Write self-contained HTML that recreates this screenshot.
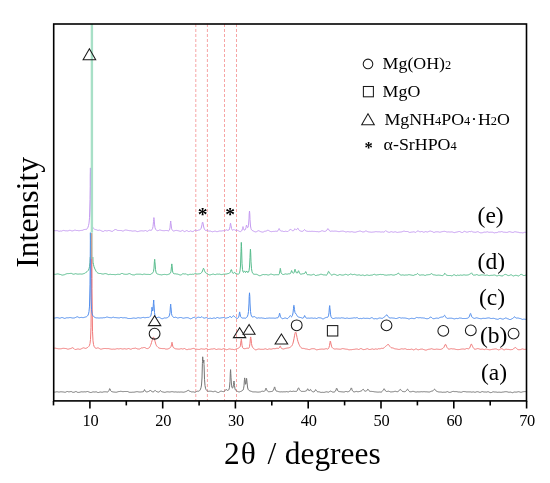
<!DOCTYPE html>
<html><head><meta charset="utf-8"><title>XRD patterns</title>
<style>
html,body{margin:0;padding:0;background:#fff;}
body{width:550px;height:483px;overflow:hidden;}
svg{display:block;}
text{font-family:"Liberation Serif","Times New Roman",serif;fill:#000;}
</style></head><body>
<svg width="550" height="483" viewBox="0 0 550 483">
<rect width="550" height="483" fill="#fff"/>
<defs><clipPath id="plot"><rect x="53.7" y="24.0" width="472.8" height="376.9"/></clipPath><clipPath id="low"><rect x="50" y="257" width="480" height="150"/><rect x="100" y="20" width="430" height="240"/><rect x="50" y="20" width="35" height="240"/></clipPath></defs>

<g stroke="#f7a4a4" stroke-width="1" stroke-dasharray="3,2" fill="none">
<line x1="195.8" y1="24.0" x2="195.8" y2="400.9"/>
<line x1="207.4" y1="24.0" x2="207.4" y2="400.9"/>
<line x1="224.5" y1="24.0" x2="224.5" y2="400.9"/>
<line x1="236.5" y1="24.0" x2="236.5" y2="400.9"/>
</g>
<g clip-path="url(#plot)" fill="none" stroke-width="1" stroke-linejoin="round">
<path d="M54.0,392.2 L54.5,392.1 L55.0,392.1 L55.5,392.0 L56.0,391.8 L56.5,391.8 L57.0,391.8 L57.5,391.8 L58.0,392.0 L58.5,392.0 L59.0,392.0 L59.5,392.0 L60.0,391.9 L60.5,391.8 L61.0,391.8 L61.5,391.8 L62.0,391.8 L62.5,391.9 L63.0,392.0 L63.5,392.0 L64.0,392.2 L64.5,392.2 L65.0,392.2 L65.5,392.2 L66.0,391.9 L66.5,391.7 L67.0,391.6 L67.5,391.5 L68.0,391.7 L68.5,391.8 L69.0,391.8 L69.5,391.8 L70.0,391.6 L70.5,391.6 L71.0,391.5 L71.5,391.6 L72.0,391.9 L72.5,392.2 L73.0,392.4 L73.5,392.3 L74.0,392.3 L74.5,392.1 L75.0,391.8 L75.5,391.6 L76.0,391.5 L76.5,391.7 L77.0,391.9 L77.5,392.3 L78.0,392.4 L78.5,392.4 L79.0,392.4 L79.5,392.3 L80.0,392.2 L80.5,392.0 L81.0,391.9 L81.5,391.8 L82.0,391.8 L82.5,391.9 L83.0,391.9 L83.5,391.9 L84.0,391.9 L84.5,391.8 L85.0,391.9 L85.5,391.9 L86.0,391.8 L86.5,391.7 L87.0,391.5 L87.5,391.5 L88.0,391.6 L88.5,391.8 L89.0,392.1 L89.5,392.2 L90.0,392.3 L90.5,392.5 L91.0,392.4 L91.5,392.4 L92.0,392.2 L92.5,392.0 L93.0,391.9 L93.5,391.9 L94.0,392.0 L94.5,392.0 L95.0,392.0 L95.5,391.9 L96.0,391.9 L96.5,391.9 L97.0,392.1 L97.5,392.4 L98.0,392.5 L98.5,392.5 L99.0,392.4 L99.5,392.2 L100.0,392.1 L100.5,392.0 L101.0,392.1 L101.5,392.2 L102.0,392.3 L102.5,392.2 L103.0,392.1 L103.5,391.9 L104.0,391.8 L104.5,391.8 L105.0,391.8 L105.5,391.8 L106.0,391.9 L106.5,391.9 L107.0,392.1 L107.5,392.0 L108.0,391.8 L108.5,391.3 L109.0,390.4 L109.5,389.1 L109.5,388.9 L109.7,388.6 L110.0,388.9 L110.0,388.9 L110.5,390.4 L111.0,391.1 L111.5,391.5 L112.0,391.8 L112.5,391.8 L113.0,391.8 L113.5,392.0 L114.0,392.0 L114.5,392.1 L115.0,392.2 L115.5,392.2 L116.0,392.2 L116.5,392.2 L117.0,392.0 L117.5,391.9 L118.0,391.8 L118.5,391.6 L119.0,391.6 L119.5,391.5 L120.0,391.3 L120.5,391.3 L121.0,391.3 L121.5,391.4 L122.0,391.6 L122.5,391.6 L123.0,391.7 L123.5,391.6 L124.0,391.5 L124.5,391.5 L125.0,391.5 L125.5,391.5 L126.0,391.5 L126.5,391.5 L127.0,391.4 L127.5,391.5 L128.0,391.6 L128.5,391.9 L129.0,392.1 L129.5,392.3 L130.0,392.4 L130.5,392.3 L131.0,392.3 L131.5,392.3 L132.0,392.3 L132.5,392.2 L133.0,392.2 L133.5,392.2 L134.0,392.1 L134.5,392.1 L135.0,392.1 L135.5,391.9 L136.0,391.8 L136.5,391.7 L137.0,391.6 L137.5,391.7 L138.0,391.8 L138.5,391.9 L139.0,392.0 L139.5,392.0 L140.0,392.0 L140.5,392.0 L141.0,391.9 L141.5,391.9 L142.0,391.9 L142.5,391.8 L143.0,391.8 L143.5,391.6 L144.0,390.8 L144.2,390.1 L144.5,389.6 L144.8,390.0 L145.0,390.6 L145.5,391.4 L146.0,391.8 L146.5,391.9 L147.0,391.8 L147.5,391.8 L148.0,391.6 L148.5,391.5 L149.0,391.5 L149.5,391.1 L149.9,390.5 L150.0,390.5 L150.2,390.1 L150.4,390.3 L150.5,390.3 L151.0,390.9 L151.5,391.3 L152.0,391.6 L152.5,391.8 L153.0,391.9 L153.5,391.8 L154.0,391.6 L154.5,391.1 L154.9,390.4 L155.0,390.4 L155.2,390.4 L155.4,390.6 L155.5,390.7 L156.0,391.3 L156.5,391.5 L157.0,391.7 L157.5,391.9 L158.0,392.0 L158.5,392.1 L159.0,392.0 L159.5,391.7 L160.0,391.1 L160.2,390.7 L160.5,390.5 L160.8,390.8 L161.0,391.1 L161.5,391.6 L162.0,391.8 L162.5,391.9 L163.0,392.0 L163.5,392.1 L164.0,392.2 L164.5,392.3 L165.0,392.3 L165.5,392.2 L166.0,392.1 L166.5,391.9 L167.0,391.8 L167.5,391.8 L168.0,391.8 L168.5,391.9 L169.0,392.0 L169.5,392.0 L170.0,392.0 L170.5,391.9 L171.0,391.8 L171.5,391.7 L172.0,391.6 L172.5,391.7 L173.0,391.8 L173.5,391.9 L174.0,392.0 L174.5,392.0 L175.0,392.0 L175.5,391.9 L176.0,391.9 L176.5,392.0 L177.0,392.1 L177.5,392.1 L178.0,392.1 L178.5,392.0 L179.0,392.1 L179.5,392.1 L180.0,392.0 L180.5,392.0 L181.0,392.0 L181.5,392.0 L182.0,392.1 L182.5,392.1 L183.0,392.2 L183.5,392.2 L184.0,392.1 L184.5,392.0 L185.0,391.8 L185.5,391.7 L186.0,391.5 L186.5,391.3 L187.0,391.1 L187.5,390.8 L188.0,390.2 L188.2,390.0 L188.5,390.0 L188.8,390.4 L189.0,390.8 L189.5,391.3 L190.0,391.4 L190.5,391.5 L191.0,391.8 L191.5,391.9 L192.0,391.9 L192.5,391.9 L193.0,391.9 L193.5,391.9 L194.0,392.1 L194.5,392.2 L195.0,392.2 L195.5,392.1 L196.0,391.8 L196.5,391.5 L197.0,391.4 L197.5,391.2 L198.0,391.3 L198.5,391.2 L199.0,391.1 L199.5,390.7 L200.0,390.2 L200.5,389.1 L201.0,387.7 L201.5,385.0 L202.0,378.0 L202.4,363.3 L202.5,361.6 L202.7,356.8 L202.9,359.6 L203.0,360.7 L203.5,362.4 L203.6,361.7 L203.8,360.0 L204.0,364.4 L204.1,366.0 L204.5,379.3 L205.0,385.5 L205.5,388.2 L206.0,389.5 L206.5,390.2 L207.0,390.8 L207.5,391.1 L208.0,391.2 L208.5,391.3 L209.0,391.2 L209.5,391.2 L210.0,391.2 L210.5,391.2 L211.0,391.2 L211.5,391.3 L212.0,391.4 L212.5,391.6 L213.0,391.7 L213.5,391.7 L214.0,391.5 L214.5,391.3 L215.0,391.3 L215.5,391.3 L216.0,391.6 L216.5,391.9 L217.0,392.1 L217.5,392.4 L218.0,392.5 L218.5,392.5 L219.0,392.2 L219.5,391.9 L220.0,391.5 L220.5,391.3 L221.0,391.3 L221.5,391.2 L222.0,391.4 L222.5,391.5 L223.0,391.5 L223.5,391.6 L224.0,391.5 L224.5,391.2 L225.0,390.8 L225.5,390.0 L225.8,389.6 L226.0,389.3 L226.2,389.4 L226.5,389.7 L227.0,390.1 L227.5,390.4 L228.0,390.3 L228.5,390.1 L229.0,389.3 L229.5,387.2 L230.0,381.4 L230.3,373.2 L230.5,370.2 L230.6,369.6 L230.8,373.5 L231.0,377.3 L231.5,385.2 L232.0,387.7 L232.5,388.1 L233.0,387.2 L233.5,384.4 L233.8,382.2 L234.0,381.0 L234.2,382.8 L234.5,385.6 L235.0,388.9 L235.5,390.1 L236.0,390.6 L236.5,390.9 L237.0,391.1 L237.5,391.4 L238.0,391.6 L238.5,391.8 L239.0,392.0 L239.5,391.9 L240.0,391.7 L240.5,391.5 L241.0,391.2 L241.5,391.1 L242.0,390.9 L242.5,390.5 L243.0,390.1 L243.5,388.8 L244.0,385.9 L244.4,380.1 L244.5,379.4 L244.7,377.9 L244.9,379.3 L245.0,379.8 L245.5,384.3 L246.0,383.5 L246.3,380.0 L246.5,378.6 L246.6,378.3 L246.8,380.1 L247.0,382.1 L247.5,387.0 L248.0,389.1 L248.5,390.0 L249.0,390.5 L249.5,390.7 L250.0,390.9 L250.5,391.1 L251.0,391.2 L251.5,391.4 L252.0,391.6 L252.5,391.8 L253.0,391.8 L253.5,391.9 L254.0,391.9 L254.5,391.9 L255.0,391.9 L255.5,391.9 L256.0,391.9 L256.5,392.0 L257.0,392.0 L257.5,392.1 L258.0,392.2 L258.5,392.1 L259.0,392.1 L259.5,392.0 L260.0,391.9 L260.5,391.9 L261.0,391.6 L261.5,391.4 L262.0,391.3 L262.5,391.2 L263.0,391.3 L263.5,391.4 L264.0,391.4 L264.5,391.2 L265.0,390.7 L265.5,389.3 L265.8,388.6 L266.0,388.1 L266.2,388.5 L266.5,389.3 L267.0,390.4 L267.5,391.1 L268.0,391.4 L268.5,391.7 L269.0,391.7 L269.5,391.7 L270.0,391.7 L270.5,391.6 L271.0,391.6 L271.5,391.5 L272.0,391.3 L272.5,391.2 L273.0,390.8 L273.5,390.2 L274.0,388.7 L274.4,387.3 L274.5,387.0 L274.6,386.9 L274.9,387.5 L275.0,388.2 L275.5,389.9 L276.0,390.8 L276.5,391.1 L277.0,391.2 L277.5,391.3 L278.0,391.4 L278.5,391.6 L279.0,391.7 L279.5,391.8 L280.0,391.9 L280.5,391.9 L281.0,391.8 L281.5,391.8 L282.0,391.9 L282.5,391.9 L283.0,391.9 L283.5,391.8 L284.0,391.8 L284.5,391.8 L285.0,391.7 L285.5,391.8 L286.0,391.7 L286.5,391.6 L287.0,391.8 L287.5,391.8 L288.0,391.9 L288.5,391.9 L289.0,391.7 L289.5,391.4 L290.0,391.3 L290.5,391.2 L291.0,391.3 L291.5,391.5 L292.0,391.5 L292.5,391.4 L293.0,391.3 L293.5,391.2 L294.0,391.3 L294.5,391.4 L295.0,391.5 L295.5,391.4 L296.0,391.4 L296.5,391.3 L297.0,390.9 L297.5,390.2 L298.0,388.8 L298.2,388.2 L298.5,387.8 L298.8,388.0 L299.0,388.5 L299.5,389.5 L300.0,390.3 L300.5,390.8 L301.0,391.1 L301.5,391.4 L302.0,391.5 L302.5,391.4 L303.0,391.5 L303.5,391.4 L304.0,391.4 L304.5,391.4 L305.0,391.2 L305.5,391.1 L306.0,391.1 L306.5,390.8 L307.0,390.1 L307.4,389.2 L307.5,388.9 L307.6,388.8 L307.9,388.9 L308.0,389.2 L308.5,390.3 L309.0,390.6 L309.5,390.6 L310.0,390.0 L310.2,389.6 L310.5,389.4 L310.8,389.8 L311.0,390.3 L311.5,391.0 L312.0,391.4 L312.5,391.6 L313.0,391.9 L313.5,391.9 L314.0,391.8 L314.5,391.5 L315.0,390.7 L315.4,389.9 L315.5,389.7 L315.6,389.6 L315.9,389.8 L316.0,390.0 L316.5,390.9 L317.0,391.4 L317.5,391.7 L318.0,391.8 L318.5,391.8 L319.0,391.8 L319.5,391.9 L320.0,392.0 L320.5,392.3 L321.0,392.3 L321.5,392.4 L322.0,392.3 L322.5,392.3 L323.0,392.3 L323.5,392.4 L324.0,392.3 L324.5,392.3 L325.0,392.2 L325.5,392.0 L326.0,391.9 L326.5,391.8 L327.0,391.9 L327.5,392.0 L328.0,392.1 L328.5,392.2 L329.0,391.9 L329.5,391.6 L330.0,391.4 L330.5,391.1 L331.0,391.2 L331.5,391.5 L332.0,391.7 L332.5,392.0 L333.0,392.2 L333.5,392.1 L334.0,392.1 L334.5,391.9 L335.0,391.6 L335.5,391.0 L336.0,389.9 L336.4,388.5 L336.5,388.3 L336.7,388.1 L336.9,388.5 L337.0,388.7 L337.5,390.2 L338.0,391.0 L338.5,391.4 L339.0,391.6 L339.5,391.6 L340.0,391.7 L340.5,391.7 L341.0,391.7 L341.5,391.8 L342.0,391.8 L342.5,391.9 L343.0,391.9 L343.5,392.0 L344.0,392.0 L344.5,391.9 L345.0,391.8 L345.5,391.5 L346.0,391.5 L346.5,391.5 L347.0,391.6 L347.5,391.8 L348.0,391.7 L348.5,391.6 L349.0,391.3 L349.5,391.0 L350.0,390.6 L350.5,389.8 L351.0,388.3 L351.1,388.2 L351.3,387.9 L351.5,388.1 L351.6,388.2 L352.0,389.7 L352.5,390.8 L353.0,391.4 L353.5,391.7 L354.0,391.9 L354.5,391.9 L355.0,391.8 L355.5,391.6 L356.0,391.4 L356.5,391.4 L357.0,391.6 L357.5,391.7 L358.0,391.8 L358.5,391.7 L359.0,391.6 L359.5,391.5 L360.0,391.3 L360.5,391.2 L361.0,391.0 L361.5,390.8 L362.0,390.5 L362.5,389.8 L362.8,389.4 L363.0,389.1 L363.2,389.1 L363.5,389.6 L364.0,390.4 L364.5,390.8 L365.0,391.1 L365.5,391.2 L366.0,391.2 L366.5,390.9 L367.0,390.4 L367.5,389.5 L367.8,389.1 L368.0,389.0 L368.2,389.4 L368.5,389.9 L369.0,390.7 L369.5,391.1 L370.0,391.3 L370.5,391.4 L371.0,391.4 L371.5,391.4 L372.0,391.4 L372.5,391.5 L373.0,391.5 L373.5,391.6 L374.0,391.7 L374.5,391.8 L375.0,391.9 L375.5,391.9 L376.0,391.9 L376.5,392.0 L377.0,392.0 L377.5,392.1 L378.0,392.2 L378.5,392.1 L379.0,392.0 L379.5,392.0 L380.0,392.0 L380.5,392.1 L381.0,392.2 L381.5,392.0 L382.0,391.6 L382.5,391.1 L383.0,390.3 L383.5,389.5 L383.8,389.0 L384.0,388.7 L384.2,388.9 L384.5,389.2 L385.0,390.1 L385.5,390.9 L386.0,391.2 L386.5,391.5 L387.0,391.5 L387.5,391.4 L388.0,391.3 L388.5,391.2 L389.0,391.2 L389.5,391.5 L390.0,391.7 L390.5,391.9 L391.0,392.0 L391.5,391.9 L392.0,391.9 L392.5,391.8 L393.0,391.8 L393.5,391.7 L394.0,391.5 L394.5,391.4 L395.0,391.3 L395.5,391.3 L396.0,391.5 L396.5,391.6 L397.0,391.8 L397.5,391.7 L398.0,391.5 L398.5,391.3 L399.0,390.7 L399.5,390.1 L400.0,389.4 L400.1,389.3 L400.3,389.3 L400.5,389.4 L400.6,389.5 L401.0,390.1 L401.5,390.7 L402.0,391.2 L402.5,391.4 L403.0,391.5 L403.5,391.6 L404.0,391.7 L404.5,391.7 L405.0,391.6 L405.5,391.4 L406.0,391.0 L406.5,390.5 L407.0,389.8 L407.4,389.2 L407.5,389.1 L407.6,389.1 L407.9,389.3 L408.0,389.7 L408.5,390.6 L409.0,391.2 L409.5,391.6 L410.0,391.7 L410.5,391.8 L411.0,391.7 L411.5,391.7 L412.0,391.6 L412.5,391.4 L413.0,391.4 L413.5,391.4 L414.0,391.5 L414.5,391.7 L415.0,391.9 L415.5,392.0 L416.0,392.0 L416.5,392.0 L417.0,391.9 L417.5,391.8 L418.0,391.8 L418.5,391.9 L419.0,391.9 L419.5,391.9 L420.0,391.9 L420.5,391.8 L421.0,391.7 L421.5,391.7 L422.0,391.7 L422.5,391.8 L423.0,391.8 L423.5,391.7 L424.0,391.7 L424.5,391.7 L425.0,391.7 L425.5,391.8 L426.0,391.8 L426.5,391.8 L427.0,391.8 L427.5,391.9 L428.0,391.9 L428.5,392.0 L429.0,392.1 L429.5,392.0 L430.0,391.8 L430.5,391.6 L431.0,391.4 L431.5,391.2 L432.0,391.0 L432.5,391.0 L433.0,390.8 L433.5,390.3 L434.0,389.7 L434.2,389.3 L434.5,389.1 L434.8,389.2 L435.0,389.6 L435.5,390.3 L436.0,390.9 L436.5,391.2 L437.0,391.4 L437.5,391.6 L438.0,391.7 L438.5,391.9 L439.0,392.0 L439.5,392.0 L440.0,392.0 L440.5,392.0 L441.0,392.0 L441.5,392.1 L442.0,392.2 L442.5,392.3 L443.0,392.2 L443.5,392.2 L444.0,392.2 L444.5,392.2 L445.0,392.2 L445.5,392.2 L446.0,392.0 L446.5,391.9 L447.0,391.7 L447.5,391.6 L448.0,391.9 L448.5,392.1 L449.0,392.3 L449.5,392.4 L450.0,392.3 L450.5,392.3 L451.0,392.1 L451.5,391.9 L452.0,391.8 L452.5,391.5 L453.0,391.4 L453.5,391.4 L454.0,391.5 L454.5,391.6 L455.0,391.6 L455.5,391.6 L456.0,391.5 L456.5,391.6 L457.0,391.7 L457.5,391.8 L458.0,392.0 L458.5,392.0 L459.0,391.9 L459.5,392.0 L460.0,392.1 L460.5,392.2 L461.0,392.3 L461.5,392.2 L462.0,392.0 L462.5,391.8 L463.0,391.6 L463.5,391.5 L464.0,391.5 L464.5,391.6 L465.0,391.7 L465.5,391.7 L466.0,391.8 L466.5,391.9 L467.0,391.8 L467.5,391.9 L468.0,391.9 L468.5,391.9 L469.0,392.0 L469.5,391.9 L470.0,391.9 L470.5,391.9 L471.0,391.9 L471.5,392.1 L472.0,392.1 L472.5,392.0 L473.0,391.9 L473.5,391.9 L474.0,392.0 L474.5,392.2 L475.0,392.3 L475.5,392.2 L476.0,392.1 L476.5,391.8 L477.0,391.7 L477.5,391.7 L478.0,391.7 L478.5,391.9 L479.0,392.1 L479.5,392.3 L480.0,392.4 L480.5,392.3 L481.0,392.0 L481.5,391.8 L482.0,391.6 L482.5,391.6 L483.0,391.8 L483.5,391.9 L484.0,392.0 L484.5,392.0 L485.0,392.0 L485.5,392.0 L486.0,392.1 L486.5,392.1 L487.0,392.0 L487.5,391.8 L488.0,391.8 L488.5,391.8 L489.0,392.0 L489.5,392.3 L490.0,392.5 L490.5,392.6 L491.0,392.6 L491.5,392.5 L492.0,392.3 L492.5,392.0 L493.0,391.9 L493.5,391.8 L494.0,391.8 L494.5,392.0 L495.0,392.0 L495.5,392.0 L496.0,392.1 L496.5,392.1 L497.0,392.2 L497.5,392.3 L498.0,392.2 L498.5,392.2 L499.0,392.1 L499.5,392.2 L500.0,392.3 L500.5,392.3 L501.0,392.4 L501.5,392.3 L502.0,392.2 L502.5,392.1 L503.0,392.0 L503.5,392.0 L504.0,391.9 L504.5,391.8 L505.0,391.7 L505.5,391.7 L506.0,391.6 L506.5,391.7 L507.0,391.8 L507.5,391.9 L508.0,392.1 L508.5,392.2 L509.0,392.3 L509.5,392.2 L510.0,392.1 L510.5,392.1 L511.0,392.2 L511.5,392.4 L512.0,392.7 L512.5,392.7 L513.0,392.6 L513.5,392.3 L514.0,392.0 L514.5,392.0 L515.0,392.0 L515.5,392.1 L516.0,392.2 L516.5,392.1 L517.0,392.0 L517.5,391.9 L518.0,391.8 L518.5,391.7 L519.0,391.8 L519.5,391.9 L520.0,392.0 L520.5,392.2 L521.0,392.2 L521.5,392.2 L522.0,392.2 L522.5,391.9 L523.0,391.8 L523.5,391.7 L524.0,391.6 L524.5,391.6 L525.0,391.6 L525.5,391.6 L526.0,391.7" stroke="#747474"/>
<path d="M54.0,274.2 L54.5,274.3 L55.0,274.4 L55.5,274.3 L56.0,274.3 L56.5,274.1 L57.0,273.9 L57.5,273.9 L58.0,274.0 L58.5,274.0 L59.0,274.2 L59.5,274.3 L60.0,274.4 L60.5,274.5 L61.0,274.7 L61.5,274.9 L62.0,275.0 L62.5,275.1 L63.0,275.0 L63.5,274.9 L64.0,274.8 L64.5,274.7 L65.0,274.5 L65.5,274.2 L66.0,274.0 L66.5,273.8 L67.0,273.7 L67.5,273.6 L68.0,273.6 L68.5,273.6 L69.0,273.5 L69.5,273.5 L70.0,273.5 L70.5,273.4 L71.0,273.4 L71.5,273.4 L72.0,273.6 L72.5,273.9 L73.0,274.0 L73.5,274.2 L74.0,274.2 L74.5,274.0 L75.0,273.9 L75.5,273.7 L76.0,273.7 L76.5,273.9 L77.0,274.0 L77.5,274.1 L78.0,274.2 L78.5,274.1 L79.0,274.0 L79.5,274.0 L80.0,274.0 L80.5,274.0 L81.0,274.1 L81.5,274.1 L82.0,274.0 L82.5,274.0 L83.0,273.8 L83.5,273.7 L84.0,273.6 L84.5,273.4 L85.0,273.0 L85.5,272.8 L86.0,272.3 L86.5,272.0 L87.0,271.7 L87.5,271.2 L88.0,270.7 L88.5,270.0 L89.0,268.8 L89.5,266.6 L90.0,262.4 L90.5,253.1 L91.0,41.6 L91.2,19.0 L91.5,19.0 L91.5,19.0 L91.7,19.0 L91.8,19.0 L92.0,19.0 L92.0,19.0 L92.5,169.3 L92.8,253.4 L93.0,263.2 L93.2,263.0 L93.5,264.6 L94.0,266.7 L94.5,268.1 L95.0,269.1 L95.5,270.2 L96.0,271.1 L96.5,271.8 L97.0,272.4 L97.5,272.8 L98.0,273.0 L98.5,273.3 L99.0,273.5 L99.5,273.5 L100.0,273.5 L100.5,273.5 L101.0,273.6 L101.5,273.8 L102.0,274.0 L102.5,274.0 L103.0,274.1 L103.5,274.0 L104.0,273.7 L104.5,273.7 L105.0,273.6 L105.5,273.6 L106.0,273.8 L106.5,273.8 L107.0,274.0 L107.5,274.2 L108.0,274.4 L108.5,274.6 L109.0,274.6 L109.5,274.4 L110.0,274.3 L110.5,274.3 L111.0,274.4 L111.5,274.5 L112.0,274.6 L112.5,274.5 L113.0,274.5 L113.5,274.5 L114.0,274.5 L114.5,274.6 L115.0,274.6 L115.5,274.7 L116.0,274.6 L116.5,274.5 L117.0,274.4 L117.5,274.3 L118.0,274.3 L118.5,274.3 L119.0,274.4 L119.5,274.4 L120.0,274.3 L120.5,274.1 L121.0,273.7 L121.5,273.5 L122.0,273.4 L122.5,273.5 L123.0,273.7 L123.5,274.0 L124.0,274.1 L124.5,274.2 L125.0,274.3 L125.5,274.3 L126.0,274.3 L126.5,274.3 L127.0,274.3 L127.5,274.2 L128.0,273.9 L128.5,273.8 L129.0,273.6 L129.5,273.6 L130.0,273.8 L130.5,274.0 L131.0,274.2 L131.5,274.5 L132.0,274.6 L132.5,274.8 L133.0,274.9 L133.5,274.9 L134.0,274.9 L134.5,274.9 L135.0,274.7 L135.5,274.4 L136.0,274.4 L136.5,274.2 L137.0,274.1 L137.5,274.2 L138.0,274.1 L138.5,274.2 L139.0,274.3 L139.5,274.2 L140.0,274.3 L140.5,274.2 L141.0,274.3 L141.5,274.4 L142.0,274.5 L142.5,274.6 L143.0,274.4 L143.5,274.2 L144.0,274.2 L144.5,274.1 L145.0,274.2 L145.5,274.3 L146.0,274.3 L146.5,274.4 L147.0,274.4 L147.5,274.4 L148.0,274.4 L148.5,274.4 L149.0,274.5 L149.5,274.5 L150.0,274.5 L150.5,274.4 L151.0,274.0 L151.5,273.7 L152.0,273.3 L152.5,273.0 L153.0,272.6 L153.5,271.4 L154.0,268.2 L154.4,261.6 L154.5,260.8 L154.7,259.3 L154.9,261.6 L155.0,262.6 L155.5,269.4 L156.0,272.2 L156.5,273.4 L157.0,273.8 L157.5,274.0 L158.0,274.2 L158.5,274.3 L159.0,274.4 L159.5,274.6 L160.0,274.6 L160.5,274.7 L161.0,274.8 L161.5,274.9 L162.0,274.9 L162.5,274.7 L163.0,274.6 L163.5,274.5 L164.0,274.4 L164.5,274.4 L165.0,274.4 L165.5,274.5 L166.0,274.6 L166.5,274.7 L167.0,274.7 L167.5,274.6 L168.0,274.5 L168.5,274.3 L169.0,274.2 L169.5,273.9 L170.0,273.6 L170.5,272.9 L171.0,271.3 L171.5,266.5 L171.6,266.0 L171.8,263.9 L172.0,265.4 L172.1,266.0 L172.5,270.9 L173.0,272.8 L173.5,273.5 L174.0,273.7 L174.5,273.8 L175.0,273.9 L175.5,273.8 L176.0,273.9 L176.5,274.0 L177.0,274.0 L177.5,274.1 L178.0,274.3 L178.5,274.4 L179.0,274.6 L179.5,274.8 L180.0,274.9 L180.5,275.0 L181.0,275.0 L181.5,274.7 L182.0,274.3 L182.5,273.9 L183.0,273.8 L183.5,273.8 L184.0,273.9 L184.5,274.0 L185.0,273.9 L185.5,273.9 L186.0,273.9 L186.5,274.1 L187.0,274.6 L187.5,274.8 L188.0,274.9 L188.5,274.8 L189.0,274.5 L189.5,274.4 L190.0,274.4 L190.5,274.3 L191.0,274.3 L191.5,274.4 L192.0,274.3 L192.5,274.2 L193.0,274.3 L193.5,274.3 L194.0,274.2 L194.5,274.0 L195.0,273.5 L195.2,273.2 L195.5,273.1 L195.8,273.3 L196.0,273.6 L196.5,274.0 L197.0,274.0 L197.5,274.0 L198.0,274.0 L198.5,273.9 L199.0,274.0 L199.5,273.8 L200.0,273.7 L200.5,273.5 L201.0,273.1 L201.5,272.7 L202.0,272.0 L202.5,271.0 L203.0,269.5 L203.4,268.3 L203.5,268.5 L203.7,268.5 L203.9,269.0 L204.0,269.2 L204.5,270.6 L205.0,271.9 L205.5,272.7 L206.0,273.0 L206.5,273.3 L207.0,273.6 L207.5,273.8 L208.0,274.2 L208.5,274.5 L209.0,274.8 L209.5,274.9 L210.0,274.9 L210.5,274.8 L211.0,274.7 L211.5,274.5 L212.0,274.3 L212.5,274.2 L213.0,274.1 L213.5,274.1 L214.0,274.3 L214.5,274.5 L215.0,274.6 L215.5,274.6 L216.0,274.4 L216.5,274.2 L217.0,274.1 L217.5,274.1 L218.0,274.2 L218.5,274.2 L219.0,274.2 L219.5,274.1 L220.0,274.2 L220.5,274.4 L221.0,274.5 L221.5,274.6 L222.0,274.6 L222.5,274.4 L223.0,274.3 L223.5,274.2 L224.0,274.2 L224.5,274.2 L225.0,274.2 L225.5,274.1 L226.0,274.1 L226.5,274.0 L227.0,273.8 L227.5,273.7 L228.0,273.6 L228.5,273.5 L229.0,273.3 L229.5,273.1 L230.0,272.6 L230.5,271.6 L231.0,270.0 L231.1,270.0 L231.3,269.6 L231.5,269.8 L231.6,269.8 L232.0,271.5 L232.5,272.8 L233.0,273.4 L233.5,273.3 L234.0,272.8 L234.2,272.4 L234.5,272.2 L234.8,272.5 L235.0,273.0 L235.5,273.6 L236.0,273.8 L236.5,273.8 L237.0,274.0 L237.5,274.1 L238.0,274.3 L238.5,274.2 L239.0,273.7 L239.5,272.8 L240.0,270.9 L240.5,266.0 L241.0,251.3 L241.1,249.0 L241.3,242.4 L241.5,246.5 L241.6,248.4 L242.0,263.3 L242.5,269.5 L243.0,271.7 L243.5,272.4 L244.0,272.0 L244.2,271.3 L244.5,270.9 L244.8,271.3 L245.0,271.9 L245.5,272.5 L246.0,272.1 L246.5,271.0 L246.6,271.2 L246.8,271.0 L247.0,271.6 L247.1,271.6 L247.5,272.4 L248.0,272.5 L248.5,272.1 L249.0,270.8 L249.5,267.1 L250.0,257.4 L250.2,253.0 L250.4,249.1 L250.5,249.7 L250.7,252.8 L251.0,261.8 L251.5,268.7 L252.0,271.5 L252.5,272.9 L253.0,273.6 L253.5,274.0 L254.0,274.2 L254.5,274.3 L255.0,274.3 L255.5,274.3 L256.0,274.3 L256.5,274.3 L257.0,274.4 L257.5,274.7 L258.0,275.0 L258.5,275.3 L259.0,275.6 L259.5,275.7 L260.0,275.6 L260.5,275.6 L261.0,275.3 L261.5,275.1 L262.0,275.0 L262.5,274.7 L263.0,274.5 L263.5,274.5 L264.0,274.6 L264.5,274.7 L265.0,274.7 L265.5,274.6 L266.0,274.5 L266.5,274.6 L267.0,274.8 L267.5,274.9 L268.0,275.0 L268.5,275.0 L269.0,274.9 L269.5,274.7 L270.0,274.4 L270.5,274.2 L271.0,274.2 L271.5,274.2 L272.0,274.5 L272.5,274.5 L273.0,274.7 L273.5,274.8 L274.0,274.8 L274.5,274.9 L275.0,274.7 L275.5,274.7 L276.0,274.7 L276.5,274.7 L277.0,274.7 L277.5,274.7 L278.0,274.8 L278.5,274.7 L279.0,274.5 L279.5,273.3 L280.0,270.3 L280.1,269.7 L280.3,268.4 L280.5,269.3 L280.6,269.6 L281.0,272.4 L281.5,273.5 L282.0,274.0 L282.5,274.3 L283.0,274.4 L283.5,274.5 L284.0,274.3 L284.5,274.2 L285.0,274.1 L285.5,273.9 L286.0,274.1 L286.5,274.1 L287.0,274.0 L287.5,274.1 L288.0,273.9 L288.5,273.8 L289.0,273.9 L289.5,273.8 L290.0,273.7 L290.5,273.4 L291.0,272.3 L291.4,271.1 L291.5,270.7 L291.6,270.5 L291.9,270.9 L292.0,271.3 L292.5,272.6 L293.0,273.2 L293.5,273.2 L294.0,272.6 L294.5,271.1 L294.8,269.9 L295.0,269.2 L295.2,269.6 L295.5,270.5 L296.0,272.1 L296.5,272.9 L297.0,273.1 L297.5,272.9 L298.0,271.8 L298.2,271.0 L298.5,270.7 L298.8,271.0 L299.0,271.9 L299.5,273.2 L300.0,273.8 L300.5,274.1 L301.0,274.1 L301.5,274.1 L302.0,274.1 L302.5,273.8 L303.0,273.8 L303.5,273.7 L304.0,273.6 L304.5,273.5 L305.0,273.0 L305.5,271.8 L305.6,271.7 L305.8,271.6 L306.0,271.9 L306.1,272.1 L306.5,273.6 L307.0,274.4 L307.5,274.7 L308.0,274.8 L308.5,274.7 L309.0,274.8 L309.5,274.8 L310.0,274.9 L310.5,275.0 L311.0,274.9 L311.5,275.0 L312.0,274.9 L312.5,274.7 L313.0,274.5 L313.5,274.3 L314.0,274.4 L314.5,274.7 L315.0,275.1 L315.5,275.5 L316.0,275.5 L316.5,275.4 L317.0,275.2 L317.5,275.1 L318.0,275.0 L318.5,275.0 L319.0,274.9 L319.5,274.7 L320.0,274.6 L320.5,274.3 L321.0,274.2 L321.5,274.3 L322.0,274.3 L322.5,274.6 L323.0,274.8 L323.5,274.9 L324.0,275.0 L324.5,274.9 L325.0,274.9 L325.5,275.0 L326.0,275.1 L326.5,275.1 L327.0,274.7 L327.5,273.9 L328.0,272.6 L328.2,271.7 L328.5,271.4 L328.8,271.5 L329.0,271.9 L329.5,272.9 L330.0,273.5 L330.5,274.2 L331.0,274.7 L331.5,275.1 L332.0,275.1 L332.5,274.8 L333.0,274.6 L333.5,274.3 L334.0,274.3 L334.5,274.3 L335.0,274.4 L335.5,274.6 L336.0,274.9 L336.5,275.1 L337.0,275.3 L337.5,275.4 L338.0,275.2 L338.5,275.1 L339.0,274.9 L339.5,274.6 L340.0,274.7 L340.5,274.7 L341.0,274.8 L341.5,275.0 L342.0,275.2 L342.5,275.1 L343.0,275.1 L343.5,275.0 L344.0,274.7 L344.5,274.7 L345.0,274.4 L345.5,274.3 L346.0,274.4 L346.5,274.5 L347.0,274.8 L347.5,275.0 L348.0,275.1 L348.5,275.0 L349.0,274.7 L349.5,274.5 L350.0,274.2 L350.5,274.0 L351.0,274.1 L351.5,274.3 L352.0,274.6 L352.5,274.7 L353.0,274.7 L353.5,274.5 L354.0,274.3 L354.5,274.3 L355.0,274.4 L355.5,274.7 L356.0,274.9 L356.5,275.0 L357.0,275.2 L357.5,275.1 L358.0,275.0 L358.5,274.9 L359.0,274.8 L359.5,274.9 L360.0,275.1 L360.5,275.3 L361.0,275.4 L361.5,275.3 L362.0,275.2 L362.5,275.0 L363.0,275.1 L363.5,275.2 L364.0,275.4 L364.5,275.6 L365.0,275.6 L365.5,275.4 L366.0,275.2 L366.5,275.0 L367.0,275.0 L367.5,275.0 L368.0,275.2 L368.5,275.3 L369.0,275.3 L369.5,275.4 L370.0,275.3 L370.5,275.2 L371.0,275.2 L371.5,275.1 L372.0,275.2 L372.5,275.0 L373.0,274.8 L373.5,274.5 L374.0,274.2 L374.5,274.3 L375.0,274.6 L375.5,274.8 L376.0,275.0 L376.5,275.0 L377.0,274.8 L377.5,274.8 L378.0,274.7 L378.5,274.7 L379.0,274.7 L379.5,274.5 L380.0,274.4 L380.5,274.4 L381.0,274.4 L381.5,274.6 L382.0,274.6 L382.5,274.5 L383.0,274.5 L383.5,274.6 L384.0,274.8 L384.5,275.0 L385.0,275.1 L385.5,275.1 L386.0,275.1 L386.5,275.2 L387.0,275.2 L387.5,275.0 L388.0,275.0 L388.5,274.9 L389.0,274.9 L389.5,274.9 L390.0,274.9 L390.5,274.7 L391.0,274.7 L391.5,274.7 L392.0,274.8 L392.5,275.0 L393.0,275.1 L393.5,275.1 L394.0,275.0 L394.5,275.0 L395.0,274.8 L395.5,274.6 L396.0,274.6 L396.5,274.4 L397.0,274.2 L397.5,273.9 L398.0,273.2 L398.1,273.2 L398.3,273.0 L398.5,273.1 L398.6,273.2 L399.0,273.8 L399.5,274.3 L400.0,274.6 L400.5,274.9 L401.0,275.1 L401.5,275.1 L402.0,275.1 L402.5,274.9 L403.0,274.9 L403.5,275.0 L404.0,275.1 L404.5,275.2 L405.0,275.1 L405.5,275.0 L406.0,275.0 L406.5,275.0 L407.0,275.0 L407.5,275.0 L408.0,274.9 L408.5,274.7 L409.0,274.6 L409.5,274.7 L410.0,274.7 L410.5,274.9 L411.0,275.0 L411.5,275.1 L412.0,275.2 L412.5,275.3 L413.0,275.3 L413.5,275.4 L414.0,275.2 L414.5,274.9 L415.0,274.9 L415.5,274.6 L416.0,274.5 L416.5,274.4 L417.0,273.9 L417.1,273.8 L417.4,273.7 L417.5,273.5 L417.6,273.5 L418.0,273.8 L418.5,274.4 L419.0,274.9 L419.5,275.1 L420.0,275.3 L420.5,275.1 L421.0,275.0 L421.5,274.9 L422.0,274.8 L422.5,274.9 L423.0,274.9 L423.5,274.9 L424.0,275.1 L424.5,275.3 L425.0,275.4 L425.5,275.4 L426.0,275.1 L426.5,274.9 L427.0,274.8 L427.5,274.8 L428.0,274.8 L428.5,274.7 L429.0,274.6 L429.5,274.6 L430.0,274.5 L430.5,274.3 L430.8,274.1 L431.0,273.8 L431.2,273.6 L431.5,273.6 L432.0,273.9 L432.5,274.3 L433.0,274.5 L433.5,274.8 L434.0,274.9 L434.5,274.9 L435.0,275.0 L435.5,275.1 L436.0,275.3 L436.5,275.3 L437.0,275.3 L437.5,275.2 L438.0,275.0 L438.5,275.1 L439.0,275.1 L439.5,275.2 L440.0,275.3 L440.5,275.3 L441.0,275.4 L441.5,275.5 L442.0,275.5 L442.5,275.6 L443.0,275.3 L443.5,275.1 L444.0,274.6 L444.4,274.0 L444.5,273.6 L444.6,273.3 L444.9,273.2 L445.0,273.4 L445.5,274.2 L446.0,274.7 L446.5,275.1 L447.0,275.4 L447.5,275.4 L448.0,275.5 L448.5,275.5 L449.0,275.5 L449.5,275.5 L450.0,275.4 L450.5,275.5 L451.0,275.7 L451.5,275.8 L452.0,275.8 L452.5,275.6 L453.0,275.2 L453.5,274.9 L454.0,274.7 L454.5,274.8 L455.0,275.2 L455.5,275.4 L456.0,275.6 L456.5,275.6 L457.0,275.2 L457.5,275.1 L458.0,275.1 L458.5,275.3 L459.0,275.4 L459.5,275.3 L460.0,275.2 L460.5,275.0 L461.0,275.1 L461.5,275.2 L462.0,275.2 L462.5,275.2 L463.0,275.1 L463.5,274.9 L464.0,274.9 L464.5,274.9 L465.0,274.9 L465.5,275.1 L466.0,275.1 L466.5,275.1 L467.0,275.1 L467.5,275.0 L468.0,275.0 L468.5,274.8 L469.0,274.6 L469.5,274.3 L470.0,274.2 L470.5,273.9 L471.0,273.4 L471.5,272.9 L471.6,272.8 L471.9,273.1 L472.0,273.4 L472.1,273.8 L472.5,274.5 L473.0,274.9 L473.5,275.1 L474.0,275.2 L474.5,275.1 L475.0,275.1 L475.5,275.0 L476.0,274.9 L476.5,274.6 L477.0,274.8 L477.5,274.8 L478.0,275.0 L478.5,275.3 L479.0,275.2 L479.5,275.3 L480.0,275.2 L480.5,275.1 L481.0,275.1 L481.5,274.9 L482.0,274.9 L482.5,274.9 L483.0,274.9 L483.5,275.0 L484.0,275.1 L484.5,275.1 L485.0,275.2 L485.5,275.3 L486.0,275.2 L486.5,275.1 L487.0,275.1 L487.5,275.1 L488.0,275.3 L488.5,275.5 L489.0,275.6 L489.5,275.6 L490.0,275.6 L490.5,275.4 L491.0,275.3 L491.5,275.3 L492.0,275.2 L492.5,275.3 L493.0,275.2 L493.5,275.1 L494.0,275.1 L494.5,275.0 L495.0,275.1 L495.5,275.3 L496.0,275.6 L496.5,275.8 L497.0,275.9 L497.5,275.8 L498.0,275.5 L498.5,275.3 L499.0,275.3 L499.5,275.4 L500.0,275.5 L500.5,275.7 L501.0,275.7 L501.5,275.9 L502.0,276.0 L502.5,275.9 L503.0,275.7 L503.5,275.2 L504.0,274.8 L504.5,274.6 L505.0,274.4 L505.5,274.4 L506.0,274.5 L506.5,274.7 L507.0,275.0 L507.5,275.3 L508.0,275.6 L508.5,275.6 L509.0,275.6 L509.5,275.4 L510.0,275.0 L510.5,274.9 L511.0,274.8 L511.5,274.9 L512.0,275.3 L512.5,275.6 L513.0,275.9 L513.5,276.0 L514.0,275.8 L514.5,275.6 L515.0,275.4 L515.5,275.3 L516.0,275.3 L516.5,275.4 L517.0,275.5 L517.5,275.7 L518.0,275.9 L518.5,276.0 L519.0,275.8 L519.5,275.4 L520.0,274.9 L520.5,274.6 L521.0,274.4 L521.5,274.4 L522.0,274.5 L522.5,274.9 L523.0,275.1 L523.5,275.5 L524.0,275.7 L524.5,275.5 L525.0,275.4 L525.5,275.2 L526.0,275.2" stroke="#55bb8b" clip-path="url(#low)"/>
<path d="M54.0,348.3 L54.5,348.2 L55.0,348.1 L55.5,348.2 L56.0,348.2 L56.5,348.4 L57.0,348.5 L57.5,348.6 L58.0,348.8 L58.5,348.8 L59.0,348.7 L59.5,348.8 L60.0,348.7 L60.5,348.8 L61.0,348.9 L61.5,348.7 L62.0,348.6 L62.5,348.4 L63.0,348.2 L63.5,348.3 L64.0,348.3 L64.5,348.4 L65.0,348.4 L65.5,348.5 L66.0,348.5 L66.5,348.7 L67.0,348.9 L67.5,349.1 L68.0,349.2 L68.5,349.1 L69.0,349.0 L69.5,348.8 L70.0,348.6 L70.5,348.6 L71.0,348.4 L71.5,348.2 L72.0,347.9 L72.5,347.7 L73.0,347.9 L73.5,348.3 L74.0,348.7 L74.5,349.2 L75.0,349.5 L75.5,349.5 L76.0,349.5 L76.5,349.3 L77.0,349.1 L77.5,349.0 L78.0,348.9 L78.5,349.0 L79.0,349.2 L79.5,349.3 L80.0,349.3 L80.5,349.2 L81.0,348.9 L81.5,348.7 L82.0,348.5 L82.5,348.2 L83.0,347.9 L83.5,347.8 L84.0,347.8 L84.5,348.1 L85.0,348.4 L85.5,348.4 L86.0,348.3 L86.5,348.1 L87.0,347.7 L87.5,347.5 L88.0,347.2 L88.5,346.7 L89.0,346.2 L89.5,345.3 L90.0,343.5 L90.5,339.4 L91.0,327.3 L91.5,278.4 L91.5,267.1 L91.7,233.2 L92.0,278.5 L92.0,288.5 L92.5,331.3 L93.0,340.8 L93.5,344.4 L94.0,346.2 L94.5,347.2 L95.0,347.8 L95.5,348.1 L96.0,348.4 L96.5,348.3 L97.0,348.1 L97.5,347.9 L98.0,347.8 L98.5,348.0 L99.0,348.3 L99.5,348.6 L100.0,348.9 L100.5,349.1 L101.0,349.2 L101.5,349.1 L102.0,349.0 L102.5,348.8 L103.0,348.7 L103.5,348.6 L104.0,348.7 L104.5,348.5 L105.0,348.5 L105.5,348.5 L106.0,348.4 L106.5,348.6 L107.0,348.6 L107.5,348.6 L108.0,348.6 L108.5,348.6 L109.0,348.8 L109.5,348.8 L110.0,349.0 L110.5,349.0 L111.0,349.0 L111.5,349.2 L112.0,349.2 L112.5,349.2 L113.0,349.1 L113.5,349.1 L114.0,349.2 L114.5,349.2 L115.0,349.3 L115.5,349.1 L116.0,349.0 L116.5,348.8 L117.0,348.7 L117.5,348.7 L118.0,348.6 L118.5,348.9 L119.0,348.8 L119.5,348.8 L120.0,348.8 L120.5,348.6 L121.0,348.7 L121.5,348.8 L122.0,348.9 L122.5,349.0 L123.0,349.0 L123.5,348.9 L124.0,348.8 L124.5,348.7 L125.0,348.8 L125.5,348.9 L126.0,349.1 L126.5,349.1 L127.0,349.0 L127.5,348.8 L128.0,348.5 L128.5,348.5 L129.0,348.7 L129.5,348.8 L130.0,349.0 L130.5,349.2 L131.0,349.1 L131.5,349.0 L132.0,348.8 L132.5,348.5 L133.0,348.4 L133.5,348.4 L134.0,348.3 L134.5,348.3 L135.0,348.1 L135.5,348.1 L136.0,348.2 L136.5,348.5 L137.0,348.7 L137.5,348.9 L138.0,349.0 L138.5,349.0 L139.0,349.0 L139.5,349.0 L140.0,348.8 L140.5,348.5 L141.0,348.2 L141.5,347.9 L142.0,347.9 L142.5,347.9 L143.0,347.7 L143.5,347.6 L144.0,347.5 L144.5,347.5 L145.0,347.6 L145.5,347.9 L146.0,348.2 L146.5,348.5 L147.0,348.6 L147.5,348.6 L148.0,348.4 L148.5,348.2 L149.0,348.0 L149.5,347.5 L150.0,346.6 L150.5,345.5 L151.0,344.2 L151.5,342.5 L152.0,340.9 L152.5,339.0 L153.0,337.6 L153.3,337.2 L153.5,337.3 L153.6,337.4 L153.8,337.5 L154.0,337.7 L154.5,339.2 L155.0,341.2 L155.5,343.1 L156.0,344.6 L156.5,345.7 L157.0,346.3 L157.5,346.8 L158.0,347.3 L158.5,347.7 L159.0,348.1 L159.5,348.2 L160.0,348.3 L160.5,348.4 L161.0,348.3 L161.5,348.5 L162.0,348.6 L162.5,348.6 L163.0,348.6 L163.5,348.6 L164.0,348.5 L164.5,348.6 L165.0,348.8 L165.5,349.0 L166.0,349.1 L166.5,349.1 L167.0,349.0 L167.5,349.0 L168.0,348.9 L168.5,348.7 L169.0,348.5 L169.5,348.2 L170.0,347.8 L170.5,347.4 L171.0,346.6 L171.5,344.7 L171.8,343.2 L172.0,342.3 L172.2,343.3 L172.5,345.0 L173.0,346.9 L173.5,347.7 L174.0,348.0 L174.5,348.3 L175.0,348.6 L175.5,348.8 L176.0,348.9 L176.5,348.9 L177.0,349.0 L177.5,349.0 L178.0,349.1 L178.5,349.1 L179.0,349.1 L179.5,349.1 L180.0,348.9 L180.5,348.8 L181.0,348.7 L181.5,348.7 L182.0,348.9 L182.5,349.0 L183.0,349.0 L183.5,348.8 L184.0,348.6 L184.5,348.5 L185.0,348.7 L185.5,349.1 L186.0,349.4 L186.5,349.6 L187.0,349.7 L187.5,349.6 L188.0,349.4 L188.5,349.2 L189.0,349.2 L189.5,349.2 L190.0,349.1 L190.5,349.2 L191.0,349.0 L191.5,348.9 L192.0,348.8 L192.5,348.6 L193.0,348.4 L193.5,348.4 L194.0,348.5 L194.5,348.7 L195.0,349.0 L195.5,349.2 L196.0,349.2 L196.5,349.2 L197.0,349.3 L197.5,349.3 L198.0,349.4 L198.5,349.4 L199.0,349.4 L199.5,349.4 L200.0,349.2 L200.5,349.0 L201.0,348.8 L201.5,348.8 L202.0,348.9 L202.5,349.0 L203.0,349.1 L203.5,349.1 L204.0,349.2 L204.5,349.2 L205.0,349.0 L205.5,348.8 L206.0,348.8 L206.5,348.7 L207.0,348.9 L207.5,349.2 L208.0,349.4 L208.5,349.5 L209.0,349.6 L209.5,349.4 L210.0,349.3 L210.5,349.2 L211.0,349.0 L211.5,349.0 L212.0,349.0 L212.5,349.0 L213.0,349.0 L213.5,348.8 L214.0,348.7 L214.5,348.7 L215.0,348.9 L215.5,349.2 L216.0,349.5 L216.5,349.5 L217.0,349.3 L217.5,349.2 L218.0,349.0 L218.5,349.0 L219.0,349.1 L219.5,349.1 L220.0,349.2 L220.5,349.2 L221.0,349.3 L221.5,349.4 L222.0,349.2 L222.5,349.1 L223.0,348.8 L223.5,348.7 L224.0,348.7 L224.5,348.8 L225.0,349.1 L225.5,349.3 L226.0,349.5 L226.5,349.7 L227.0,349.6 L227.5,349.5 L228.0,349.3 L228.5,349.1 L229.0,348.9 L229.5,348.9 L230.0,348.9 L230.5,349.1 L231.0,349.3 L231.5,349.3 L232.0,349.3 L232.5,349.3 L233.0,349.3 L233.5,349.5 L234.0,349.7 L234.5,349.7 L235.0,349.6 L235.5,349.3 L236.0,349.1 L236.5,348.9 L237.0,348.7 L237.5,348.6 L238.0,348.3 L238.5,348.1 L239.0,347.8 L239.5,347.4 L240.0,346.9 L240.5,345.2 L241.0,340.9 L241.1,340.6 L241.3,339.2 L241.5,340.3 L241.6,340.9 L242.0,345.2 L242.5,347.3 L243.0,348.2 L243.5,348.5 L244.0,348.6 L244.5,348.7 L245.0,348.7 L245.5,348.6 L246.0,348.4 L246.5,348.3 L247.0,348.2 L247.5,348.2 L248.0,348.5 L248.5,348.4 L249.0,347.9 L249.5,346.6 L250.0,343.3 L250.4,338.4 L250.5,337.9 L250.7,336.9 L250.9,338.3 L251.0,338.5 L251.5,343.5 L252.0,346.0 L252.5,347.2 L253.0,347.9 L253.5,348.3 L254.0,348.8 L254.5,349.3 L255.0,349.5 L255.5,349.8 L256.0,349.8 L256.5,349.7 L257.0,349.6 L257.5,349.3 L258.0,349.2 L258.5,349.0 L259.0,349.0 L259.5,349.1 L260.0,349.2 L260.5,349.3 L261.0,349.4 L261.5,349.3 L262.0,349.3 L262.5,349.3 L263.0,349.3 L263.5,349.3 L264.0,349.2 L264.5,349.0 L265.0,348.7 L265.5,348.8 L266.0,348.9 L266.5,349.2 L267.0,349.4 L267.5,349.5 L268.0,349.3 L268.5,349.1 L269.0,348.9 L269.5,348.9 L270.0,349.1 L270.5,349.1 L271.0,349.2 L271.5,349.1 L272.0,348.9 L272.5,348.8 L273.0,348.7 L273.5,348.6 L274.0,348.6 L274.5,348.7 L275.0,348.7 L275.5,348.6 L276.0,348.5 L276.5,348.3 L277.0,348.3 L277.5,348.3 L278.0,348.4 L278.5,348.4 L279.0,348.1 L279.5,347.5 L280.0,346.2 L280.1,346.2 L280.3,346.0 L280.5,346.4 L280.6,346.7 L281.0,347.7 L281.5,348.4 L282.0,348.7 L282.5,348.8 L283.0,349.1 L283.5,349.0 L284.0,348.9 L284.5,348.7 L285.0,348.4 L285.5,348.4 L286.0,348.3 L286.5,348.2 L287.0,348.1 L287.5,348.0 L288.0,347.9 L288.5,347.9 L289.0,347.8 L289.5,347.6 L290.0,347.3 L290.5,347.0 L291.0,346.6 L291.5,346.2 L292.0,345.6 L292.5,344.5 L293.0,343.1 L293.5,341.0 L294.0,338.6 L294.5,335.8 L295.0,333.4 L295.2,332.6 L295.5,332.2 L295.8,332.1 L296.0,332.6 L296.5,334.8 L297.0,337.4 L297.5,339.8 L298.0,341.6 L298.5,343.1 L299.0,344.3 L299.5,345.4 L300.0,346.3 L300.5,347.0 L301.0,347.6 L301.5,348.0 L302.0,348.2 L302.5,348.4 L303.0,348.4 L303.5,348.4 L304.0,348.5 L304.5,348.6 L305.0,348.8 L305.5,348.9 L306.0,349.0 L306.5,349.0 L307.0,349.1 L307.5,349.2 L308.0,349.3 L308.5,349.5 L309.0,349.5 L309.5,349.6 L310.0,349.5 L310.5,349.2 L311.0,349.0 L311.5,348.8 L312.0,348.7 L312.5,348.7 L313.0,348.8 L313.5,348.7 L314.0,348.6 L314.5,348.8 L315.0,349.0 L315.5,349.3 L316.0,349.7 L316.5,349.8 L317.0,349.8 L317.5,349.7 L318.0,349.6 L318.5,349.5 L319.0,349.4 L319.5,349.3 L320.0,349.2 L320.5,349.2 L321.0,349.1 L321.5,349.1 L322.0,349.2 L322.5,349.1 L323.0,349.1 L323.5,349.2 L324.0,349.1 L324.5,349.1 L325.0,349.0 L325.5,348.8 L326.0,348.8 L326.5,348.7 L327.0,348.9 L327.5,349.1 L328.0,348.9 L328.5,348.5 L329.0,347.4 L329.5,345.5 L330.0,342.4 L330.1,341.5 L330.4,341.0 L330.5,341.3 L330.6,341.9 L331.0,344.0 L331.5,346.2 L332.0,347.4 L332.5,347.9 L333.0,348.3 L333.5,348.6 L334.0,348.8 L334.5,349.0 L335.0,349.0 L335.5,349.0 L336.0,349.0 L336.5,348.9 L337.0,349.0 L337.5,349.0 L338.0,349.1 L338.5,349.1 L339.0,349.1 L339.5,349.2 L340.0,349.2 L340.5,349.2 L341.0,349.1 L341.5,348.9 L342.0,348.8 L342.5,348.6 L343.0,348.6 L343.5,348.7 L344.0,348.8 L344.5,348.9 L345.0,349.0 L345.5,349.1 L346.0,349.2 L346.5,349.2 L347.0,349.2 L347.5,349.3 L348.0,349.5 L348.5,349.7 L349.0,349.8 L349.5,349.8 L350.0,349.7 L350.5,349.7 L351.0,349.6 L351.5,349.7 L352.0,349.6 L352.5,349.5 L353.0,349.4 L353.5,349.4 L354.0,349.3 L354.5,349.3 L355.0,349.2 L355.5,349.1 L356.0,349.1 L356.5,349.0 L357.0,348.9 L357.5,349.1 L358.0,349.3 L358.5,349.5 L359.0,349.5 L359.5,349.2 L360.0,348.9 L360.5,348.6 L361.0,348.5 L361.5,348.7 L362.0,349.0 L362.5,349.3 L363.0,349.5 L363.5,349.6 L364.0,349.6 L364.5,349.5 L365.0,349.4 L365.5,349.3 L366.0,349.1 L366.5,348.9 L367.0,348.8 L367.5,348.7 L368.0,348.9 L368.5,349.2 L369.0,349.4 L369.5,349.5 L370.0,349.5 L370.5,349.4 L371.0,349.3 L371.5,349.1 L372.0,348.9 L372.5,348.9 L373.0,349.0 L373.5,349.3 L374.0,349.5 L374.5,349.3 L375.0,349.1 L375.5,348.9 L376.0,348.9 L376.5,349.1 L377.0,349.2 L377.5,349.2 L378.0,349.0 L378.5,348.7 L379.0,348.7 L379.5,348.8 L380.0,348.7 L380.5,348.7 L381.0,348.4 L381.5,348.3 L382.0,348.3 L382.5,348.4 L383.0,348.4 L383.5,348.2 L384.0,347.9 L384.5,347.4 L385.0,346.9 L385.5,346.4 L386.0,346.1 L386.5,345.7 L387.0,345.2 L387.5,344.8 L387.8,344.4 L388.0,344.3 L388.2,344.4 L388.5,344.5 L389.0,345.2 L389.5,345.9 L390.0,346.6 L390.5,347.1 L391.0,347.6 L391.5,347.8 L392.0,347.9 L392.5,347.9 L393.0,347.9 L393.5,348.2 L394.0,348.4 L394.5,348.7 L395.0,348.9 L395.5,348.9 L396.0,348.9 L396.5,349.0 L397.0,349.0 L397.5,349.2 L398.0,349.4 L398.5,349.4 L399.0,349.5 L399.5,349.4 L400.0,349.3 L400.5,349.1 L401.0,348.9 L401.5,348.8 L402.0,348.9 L402.5,348.9 L403.0,349.0 L403.5,349.0 L404.0,348.9 L404.5,348.8 L405.0,348.8 L405.5,348.8 L406.0,349.0 L406.5,349.3 L407.0,349.4 L407.5,349.5 L408.0,349.4 L408.5,349.4 L409.0,349.4 L409.5,349.5 L410.0,349.5 L410.5,349.4 L411.0,349.2 L411.5,349.1 L412.0,349.2 L412.5,349.4 L413.0,349.7 L413.5,349.9 L414.0,349.8 L414.5,349.6 L415.0,349.3 L415.5,349.0 L416.0,348.9 L416.5,349.0 L417.0,349.3 L417.5,349.6 L418.0,349.7 L418.5,349.8 L419.0,349.6 L419.5,349.5 L420.0,349.3 L420.5,349.2 L421.0,349.1 L421.5,349.1 L422.0,349.2 L422.5,349.1 L423.0,349.4 L423.5,349.5 L424.0,349.6 L424.5,349.8 L425.0,349.9 L425.5,350.1 L426.0,350.1 L426.5,350.0 L427.0,349.9 L427.5,349.6 L428.0,349.5 L428.5,349.3 L429.0,349.2 L429.5,349.2 L430.0,349.1 L430.5,349.0 L431.0,348.8 L431.5,348.7 L432.0,348.8 L432.5,349.0 L433.0,349.2 L433.5,349.3 L434.0,349.3 L434.5,349.4 L435.0,349.3 L435.5,349.3 L436.0,349.3 L436.5,349.1 L437.0,349.1 L437.5,349.2 L438.0,349.2 L438.5,349.3 L439.0,349.4 L439.5,349.4 L440.0,349.5 L440.5,349.4 L441.0,349.3 L441.5,349.1 L442.0,348.9 L442.5,348.6 L443.0,348.3 L443.5,347.8 L444.0,347.1 L444.5,346.1 L445.0,344.9 L445.1,344.7 L445.4,344.4 L445.5,344.3 L445.6,344.3 L446.0,345.0 L446.5,346.3 L447.0,347.4 L447.5,348.2 L448.0,348.7 L448.5,349.0 L449.0,349.1 L449.5,349.1 L450.0,348.9 L450.5,348.8 L451.0,348.7 L451.5,348.7 L452.0,348.9 L452.5,348.9 L453.0,348.8 L453.5,348.9 L454.0,348.9 L454.5,349.0 L455.0,349.2 L455.5,349.3 L456.0,349.4 L456.5,349.5 L457.0,349.5 L457.5,349.6 L458.0,349.6 L458.5,349.6 L459.0,349.6 L459.5,349.5 L460.0,349.4 L460.5,349.3 L461.0,349.2 L461.5,349.1 L462.0,349.1 L462.5,349.0 L463.0,348.9 L463.5,349.0 L464.0,349.1 L464.5,349.2 L465.0,349.2 L465.5,349.0 L466.0,348.7 L466.5,348.5 L467.0,348.5 L467.5,348.6 L468.0,348.7 L468.5,348.8 L469.0,348.6 L469.5,348.2 L470.0,347.2 L470.5,345.8 L471.0,344.5 L471.1,344.0 L471.4,344.0 L471.5,344.2 L471.6,344.4 L472.0,345.2 L472.5,346.3 L473.0,347.3 L473.5,348.1 L474.0,348.7 L474.5,349.1 L475.0,349.3 L475.5,349.2 L476.0,349.0 L476.5,348.9 L477.0,348.8 L477.5,348.6 L478.0,348.7 L478.5,348.7 L479.0,348.9 L479.5,349.0 L480.0,349.2 L480.5,349.3 L481.0,349.3 L481.5,349.2 L482.0,349.2 L482.5,349.1 L483.0,349.2 L483.5,349.4 L484.0,349.6 L484.5,349.6 L485.0,349.3 L485.5,349.1 L486.0,349.0 L486.5,349.1 L487.0,349.3 L487.5,349.4 L488.0,349.5 L488.5,349.6 L489.0,349.7 L489.5,349.8 L490.0,349.8 L490.5,349.7 L491.0,349.7 L491.5,349.5 L492.0,349.4 L492.5,349.3 L493.0,349.2 L493.5,349.2 L494.0,349.1 L494.5,349.0 L495.0,348.9 L495.5,348.9 L496.0,348.9 L496.5,349.0 L497.0,349.3 L497.5,349.5 L498.0,349.8 L498.5,349.9 L499.0,349.8 L499.5,349.6 L500.0,349.3 L500.5,349.0 L501.0,348.7 L501.5,348.7 L502.0,348.8 L502.5,349.0 L503.0,349.4 L503.5,349.7 L504.0,349.8 L504.5,349.8 L505.0,349.6 L505.5,349.3 L506.0,349.2 L506.5,349.2 L507.0,349.3 L507.5,349.4 L508.0,349.4 L508.5,349.4 L509.0,349.6 L509.5,349.6 L510.0,349.6 L510.5,349.7 L511.0,349.6 L511.5,349.6 L512.0,349.6 L512.5,349.5 L513.0,349.1 L513.5,348.7 L514.0,348.3 L514.5,348.0 L515.0,347.8 L515.2,347.7 L515.5,347.6 L515.8,347.6 L516.0,347.7 L516.5,348.3 L517.0,348.9 L517.5,349.4 L518.0,349.6 L518.5,349.7 L519.0,349.8 L519.5,349.7 L520.0,349.7 L520.5,349.6 L521.0,349.3 L521.5,349.2 L522.0,348.9 L522.5,348.9 L523.0,349.1 L523.5,349.2 L524.0,349.4 L524.5,349.4 L525.0,349.3 L525.5,349.3 L526.0,349.2" stroke="#f07878"/>
<path d="M54.0,318.1 L54.5,318.1 L55.0,318.0 L55.5,317.9 L56.0,317.7 L56.5,317.7 L57.0,317.7 L57.5,317.7 L58.0,317.8 L58.5,317.9 L59.0,318.1 L59.5,318.2 L60.0,318.2 L60.5,318.0 L61.0,317.8 L61.5,317.6 L62.0,317.5 L62.5,317.6 L63.0,317.8 L63.5,318.0 L64.0,318.3 L64.5,318.4 L65.0,318.4 L65.5,318.2 L66.0,318.0 L66.5,317.8 L67.0,317.6 L67.5,317.8 L68.0,317.8 L68.5,317.8 L69.0,317.9 L69.5,317.6 L70.0,317.6 L70.5,317.6 L71.0,317.6 L71.5,317.8 L72.0,317.9 L72.5,318.0 L73.0,318.0 L73.5,318.0 L74.0,318.0 L74.5,317.9 L75.0,317.8 L75.5,317.5 L76.0,317.3 L76.5,317.0 L77.0,316.8 L77.5,316.8 L78.0,317.1 L78.5,317.3 L79.0,317.6 L79.5,317.7 L80.0,317.6 L80.5,317.5 L81.0,317.5 L81.5,317.4 L82.0,317.5 L82.5,317.6 L83.0,317.6 L83.5,317.6 L84.0,317.4 L84.5,317.3 L85.0,317.2 L85.5,317.0 L86.0,316.8 L86.5,316.7 L87.0,316.3 L87.5,315.9 L88.0,315.2 L88.5,313.9 L89.0,311.6 L89.5,306.1 L90.0,284.2 L90.2,265.6 L90.4,232.7 L90.5,240.9 L90.7,265.9 L91.0,297.8 L91.5,309.5 L92.0,313.2 L92.5,314.9 L93.0,315.9 L93.5,316.4 L94.0,316.9 L94.5,317.2 L95.0,317.5 L95.5,317.7 L96.0,317.8 L96.5,317.9 L97.0,318.0 L97.5,317.9 L98.0,318.0 L98.5,318.0 L99.0,318.0 L99.5,318.0 L100.0,317.9 L100.5,317.9 L101.0,317.8 L101.5,317.9 L102.0,318.0 L102.5,317.9 L103.0,317.9 L103.5,317.7 L104.0,317.6 L104.5,317.7 L105.0,317.6 L105.5,317.5 L106.0,317.4 L106.5,317.1 L107.0,317.1 L107.5,317.1 L108.0,317.3 L108.5,317.4 L109.0,317.5 L109.5,317.6 L110.0,317.6 L110.5,317.7 L111.0,317.8 L111.5,317.8 L112.0,317.7 L112.5,317.4 L113.0,317.2 L113.5,317.2 L114.0,317.4 L114.5,317.6 L115.0,317.7 L115.5,317.6 L116.0,317.6 L116.5,317.7 L117.0,317.8 L117.5,317.8 L118.0,317.8 L118.5,317.9 L119.0,317.8 L119.5,317.9 L120.0,317.7 L120.5,317.5 L121.0,317.5 L121.5,317.5 L122.0,317.7 L122.5,317.8 L123.0,317.8 L123.5,317.8 L124.0,317.7 L124.5,317.7 L125.0,317.7 L125.5,317.8 L126.0,317.9 L126.5,317.9 L127.0,318.1 L127.5,318.3 L128.0,318.3 L128.5,318.5 L129.0,318.5 L129.5,318.5 L130.0,318.5 L130.5,318.5 L131.0,318.5 L131.5,318.4 L132.0,318.2 L132.5,318.2 L133.0,318.1 L133.5,318.0 L134.0,318.1 L134.5,318.1 L135.0,318.2 L135.5,318.3 L136.0,318.3 L136.5,318.2 L137.0,318.0 L137.5,317.8 L138.0,317.7 L138.5,317.7 L139.0,317.8 L139.5,317.9 L140.0,318.0 L140.5,318.0 L141.0,317.9 L141.5,317.8 L142.0,317.6 L142.5,317.5 L143.0,317.5 L143.5,317.4 L144.0,317.6 L144.5,317.7 L145.0,317.7 L145.5,317.7 L146.0,317.6 L146.5,317.5 L147.0,317.5 L147.5,317.4 L148.0,317.5 L148.5,317.4 L149.0,317.3 L149.5,317.1 L150.0,316.6 L150.5,316.2 L151.0,315.2 L151.5,312.4 L151.8,309.6 L152.0,307.2 L152.2,308.8 L152.5,311.0 L153.0,310.3 L153.4,303.2 L153.5,302.2 L153.7,300.0 L153.9,303.5 L154.0,304.6 L154.5,312.5 L155.0,315.3 L155.5,316.5 L156.0,317.2 L156.5,317.6 L157.0,317.6 L157.5,317.5 L158.0,317.4 L158.5,317.2 L159.0,317.3 L159.5,317.4 L160.0,317.7 L160.5,318.0 L161.0,318.3 L161.5,318.6 L162.0,318.8 L162.5,318.7 L163.0,318.6 L163.5,318.3 L164.0,318.0 L164.5,317.9 L165.0,317.9 L165.5,318.0 L166.0,318.0 L166.5,317.9 L167.0,317.9 L167.5,317.6 L168.0,317.4 L168.5,317.0 L169.0,316.3 L169.5,315.1 L170.0,312.6 L170.4,306.4 L170.5,305.7 L170.7,304.2 L170.9,306.9 L171.0,307.6 L171.5,313.7 L172.0,315.5 L172.5,316.4 L173.0,316.9 L173.5,317.3 L174.0,317.6 L174.5,317.5 L175.0,317.4 L175.5,317.2 L176.0,317.3 L176.5,317.5 L177.0,317.7 L177.5,318.0 L178.0,318.0 L178.5,317.9 L179.0,317.8 L179.5,317.6 L180.0,317.5 L180.5,317.5 L181.0,317.4 L181.5,317.6 L182.0,317.7 L182.5,318.0 L183.0,318.2 L183.5,318.2 L184.0,318.2 L184.5,318.0 L185.0,317.9 L185.5,317.8 L186.0,317.7 L186.5,317.7 L187.0,317.7 L187.5,317.7 L188.0,317.7 L188.5,317.9 L189.0,318.1 L189.5,318.4 L190.0,318.6 L190.5,318.8 L191.0,318.7 L191.5,318.5 L192.0,318.3 L192.5,317.9 L193.0,317.6 L193.5,317.5 L194.0,317.2 L194.3,317.0 L194.5,317.2 L194.6,317.3 L194.8,317.6 L195.0,317.8 L195.5,318.3 L196.0,318.3 L196.5,318.0 L197.0,317.8 L197.5,317.4 L198.0,317.2 L198.5,317.2 L199.0,317.3 L199.5,317.4 L200.0,317.5 L200.5,317.5 L201.0,317.3 L201.5,316.9 L201.8,316.7 L202.0,316.7 L202.2,316.9 L202.5,317.2 L203.0,317.7 L203.5,317.9 L204.0,318.1 L204.5,318.1 L205.0,318.0 L205.5,317.8 L206.0,317.6 L206.5,317.6 L207.0,317.8 L207.5,318.1 L208.0,318.4 L208.5,318.5 L209.0,318.4 L209.5,318.3 L210.0,318.2 L210.5,318.2 L211.0,318.4 L211.5,318.5 L212.0,318.6 L212.5,318.4 L213.0,318.2 L213.5,318.0 L214.0,317.9 L214.5,318.0 L215.0,318.4 L215.5,318.4 L216.0,318.2 L216.5,317.8 L217.0,317.4 L217.5,317.5 L218.0,317.7 L218.5,317.9 L219.0,318.2 L219.5,318.2 L220.0,318.1 L220.5,318.0 L221.0,317.9 L221.5,317.8 L222.0,317.7 L222.5,317.7 L223.0,317.5 L223.5,317.5 L224.0,317.6 L224.5,317.7 L225.0,318.0 L225.5,318.2 L226.0,318.2 L226.5,318.0 L227.0,317.8 L227.5,317.7 L228.0,317.5 L228.5,317.5 L229.0,317.3 L229.5,316.7 L229.8,316.5 L230.0,316.2 L230.2,316.4 L230.5,316.9 L231.0,317.3 L231.5,317.5 L232.0,317.3 L232.5,316.7 L233.0,316.1 L233.2,315.8 L233.5,315.7 L233.8,315.9 L234.0,316.1 L234.5,316.6 L235.0,316.9 L235.5,317.4 L236.0,317.9 L236.5,318.2 L237.0,318.4 L237.5,318.4 L238.0,318.0 L238.5,317.4 L239.0,316.0 L239.4,312.9 L239.5,312.5 L239.7,311.9 L239.9,313.0 L240.0,313.6 L240.5,316.3 L241.0,317.1 L241.5,317.7 L242.0,317.9 L242.5,318.1 L243.0,318.1 L243.5,318.1 L244.0,318.1 L244.5,318.1 L245.0,318.3 L245.5,318.2 L246.0,318.1 L246.5,317.6 L247.0,317.0 L247.5,316.1 L248.0,314.6 L248.5,311.4 L249.0,303.1 L249.2,296.6 L249.5,292.8 L249.8,296.4 L250.0,303.0 L250.5,311.3 L251.0,314.6 L251.5,316.0 L252.0,316.8 L252.5,317.0 L253.0,317.0 L253.5,316.8 L254.0,316.6 L254.5,316.6 L255.0,316.8 L255.5,317.2 L256.0,317.7 L256.5,318.0 L257.0,318.2 L257.5,318.1 L258.0,318.0 L258.5,317.8 L259.0,317.9 L259.5,318.0 L260.0,317.9 L260.5,318.0 L261.0,317.9 L261.5,317.9 L262.0,318.1 L262.5,318.1 L263.0,318.2 L263.5,318.2 L264.0,318.2 L264.5,318.4 L265.0,318.5 L265.5,318.5 L266.0,318.4 L266.5,318.2 L267.0,318.1 L267.5,318.2 L268.0,318.1 L268.5,318.1 L269.0,318.1 L269.5,318.0 L270.0,318.0 L270.5,318.1 L271.0,318.1 L271.5,318.1 L272.0,318.0 L272.5,318.1 L273.0,318.0 L273.5,318.1 L274.0,318.3 L274.5,318.2 L275.0,318.3 L275.5,318.2 L276.0,318.0 L276.5,317.9 L277.0,317.9 L277.5,317.8 L278.0,317.7 L278.5,317.1 L279.0,315.8 L279.4,314.1 L279.5,313.4 L279.6,313.2 L279.9,313.9 L280.0,314.8 L280.5,316.7 L281.0,317.6 L281.5,318.2 L282.0,318.5 L282.5,318.7 L283.0,318.7 L283.5,318.5 L284.0,318.4 L284.5,318.1 L285.0,317.9 L285.5,318.0 L286.0,318.2 L286.5,318.4 L287.0,318.6 L287.5,318.6 L288.0,318.3 L288.5,317.8 L289.0,317.1 L289.5,316.5 L290.0,315.8 L290.2,315.6 L290.5,315.7 L290.8,316.1 L291.0,316.4 L291.5,316.8 L292.0,316.4 L292.5,315.3 L293.0,312.9 L293.5,308.3 L293.6,306.8 L293.9,305.3 L294.0,305.4 L294.1,306.4 L294.5,309.6 L295.0,312.7 L295.5,313.6 L295.8,313.6 L296.0,313.6 L296.2,314.0 L296.5,314.5 L297.0,315.6 L297.5,316.4 L298.0,316.7 L298.5,317.0 L299.0,317.3 L299.5,317.3 L300.0,317.4 L300.5,317.5 L301.0,317.6 L301.5,317.8 L302.0,318.1 L302.5,318.2 L303.0,318.2 L303.5,317.8 L304.0,317.0 L304.4,316.0 L304.5,315.6 L304.6,315.5 L304.9,315.8 L305.0,316.2 L305.5,317.3 L306.0,317.9 L306.5,318.1 L307.0,318.2 L307.5,318.2 L308.0,318.1 L308.5,318.1 L309.0,318.2 L309.5,318.2 L310.0,318.1 L310.5,318.1 L311.0,318.0 L311.5,318.0 L312.0,318.1 L312.5,318.1 L313.0,318.3 L313.5,318.3 L314.0,318.1 L314.5,318.1 L315.0,318.0 L315.5,318.2 L316.0,318.4 L316.5,318.5 L317.0,318.4 L317.5,318.1 L318.0,317.8 L318.5,317.7 L319.0,317.7 L319.5,317.8 L320.0,317.8 L320.5,317.9 L321.0,318.0 L321.5,318.2 L322.0,318.5 L322.5,318.8 L323.0,318.8 L323.5,318.8 L324.0,318.5 L324.5,318.2 L325.0,318.0 L325.5,317.7 L326.0,317.5 L326.5,317.4 L327.0,317.4 L327.5,317.3 L328.0,316.9 L328.5,315.8 L329.0,312.8 L329.4,307.3 L329.5,306.8 L329.7,305.6 L329.9,307.7 L330.0,308.6 L330.5,314.2 L331.0,316.7 L331.5,317.7 L332.0,318.1 L332.5,318.3 L333.0,318.4 L333.5,318.5 L334.0,318.4 L334.5,318.3 L335.0,318.2 L335.5,318.0 L336.0,318.0 L336.5,318.0 L337.0,318.1 L337.5,318.1 L338.0,318.0 L338.5,318.0 L339.0,318.0 L339.5,318.1 L340.0,318.2 L340.5,318.1 L341.0,318.0 L341.5,317.8 L342.0,317.8 L342.5,317.9 L343.0,317.8 L343.5,318.0 L344.0,318.2 L344.5,318.3 L345.0,318.5 L345.5,318.4 L346.0,318.2 L346.5,318.1 L347.0,318.1 L347.5,318.1 L348.0,318.3 L348.5,318.4 L349.0,318.4 L349.5,318.4 L350.0,318.3 L350.5,318.3 L351.0,318.3 L351.5,318.2 L352.0,318.2 L352.5,318.1 L353.0,318.0 L353.5,317.9 L354.0,317.8 L354.5,317.8 L355.0,318.0 L355.5,318.0 L356.0,317.9 L356.5,317.7 L357.0,317.5 L357.5,317.8 L358.0,318.2 L358.5,318.5 L359.0,318.7 L359.5,318.6 L360.0,318.5 L360.5,318.4 L361.0,318.5 L361.5,318.6 L362.0,318.4 L362.5,318.4 L363.0,318.2 L363.5,318.1 L364.0,318.2 L364.5,318.3 L365.0,318.3 L365.5,318.4 L366.0,318.4 L366.5,318.3 L367.0,318.3 L367.5,318.3 L368.0,318.3 L368.5,318.4 L369.0,318.5 L369.5,318.6 L370.0,318.6 L370.5,318.2 L371.0,317.9 L371.5,317.7 L372.0,317.6 L372.5,317.9 L373.0,318.3 L373.5,318.7 L374.0,318.8 L374.5,318.8 L375.0,318.7 L375.5,318.6 L376.0,318.6 L376.5,318.8 L377.0,318.8 L377.5,318.8 L378.0,318.6 L378.5,318.3 L379.0,318.1 L379.5,318.0 L380.0,318.0 L380.5,318.1 L381.0,318.2 L381.5,318.3 L382.0,318.4 L382.5,318.3 L383.0,318.0 L383.5,317.6 L384.0,317.1 L384.5,316.8 L385.0,316.5 L385.5,316.1 L386.0,315.6 L386.5,314.9 L386.8,314.8 L387.0,314.8 L387.2,315.0 L387.5,315.5 L388.0,316.3 L388.5,317.1 L389.0,317.7 L389.5,317.8 L390.0,317.9 L390.5,318.0 L391.0,317.9 L391.5,317.9 L392.0,318.0 L392.5,318.0 L393.0,318.0 L393.5,318.1 L394.0,318.1 L394.5,318.2 L395.0,318.4 L395.5,318.5 L396.0,318.5 L396.5,318.5 L397.0,318.3 L397.5,318.2 L398.0,318.0 L398.5,317.8 L399.0,317.7 L399.5,317.5 L400.0,317.6 L400.5,317.9 L401.0,318.0 L401.5,318.1 L402.0,318.1 L402.5,317.9 L403.0,317.9 L403.5,318.0 L404.0,318.0 L404.5,318.0 L405.0,318.1 L405.5,318.1 L406.0,318.2 L406.5,318.3 L407.0,318.4 L407.5,318.5 L408.0,318.8 L408.5,318.9 L409.0,319.0 L409.5,318.9 L410.0,318.7 L410.5,318.5 L411.0,318.4 L411.5,318.3 L412.0,318.4 L412.5,318.4 L413.0,318.4 L413.5,318.6 L414.0,318.6 L414.5,318.6 L415.0,318.4 L415.5,318.1 L416.0,317.8 L416.5,317.4 L416.6,317.5 L416.8,317.5 L417.0,317.5 L417.1,317.5 L417.5,317.6 L418.0,317.8 L418.5,317.8 L419.0,317.7 L419.5,317.7 L420.0,317.6 L420.5,317.7 L421.0,317.8 L421.5,317.9 L422.0,317.9 L422.5,317.9 L423.0,317.9 L423.5,318.0 L424.0,318.0 L424.5,318.1 L425.0,318.3 L425.5,318.5 L426.0,318.7 L426.5,318.7 L427.0,318.8 L427.5,318.7 L428.0,318.5 L428.5,318.5 L429.0,318.2 L429.5,317.8 L430.0,317.5 L430.1,317.3 L430.4,317.3 L430.5,317.1 L430.6,316.9 L431.0,317.1 L431.5,317.5 L432.0,317.9 L432.5,318.4 L433.0,318.6 L433.5,318.7 L434.0,318.7 L434.5,318.6 L435.0,318.5 L435.5,318.3 L436.0,318.1 L436.5,318.1 L437.0,318.1 L437.5,318.2 L438.0,318.4 L438.5,318.3 L439.0,318.0 L439.5,317.7 L440.0,317.4 L440.5,317.3 L441.0,317.2 L441.5,317.1 L442.0,317.1 L442.5,317.0 L443.0,316.9 L443.5,316.6 L444.0,315.9 L444.4,315.4 L444.5,315.3 L444.6,315.3 L444.9,315.5 L445.0,315.6 L445.5,316.7 L446.0,317.4 L446.5,318.0 L447.0,318.3 L447.5,318.4 L448.0,318.4 L448.5,318.3 L449.0,318.1 L449.5,318.2 L450.0,318.2 L450.5,318.2 L451.0,318.3 L451.5,318.2 L452.0,318.3 L452.5,318.4 L453.0,318.5 L453.5,318.7 L454.0,318.8 L454.5,318.9 L455.0,318.7 L455.5,318.6 L456.0,318.4 L456.5,318.4 L457.0,318.5 L457.5,318.6 L458.0,318.6 L458.5,318.4 L459.0,318.2 L459.5,318.0 L460.0,317.9 L460.5,318.1 L461.0,318.2 L461.5,318.2 L462.0,318.4 L462.5,318.5 L463.0,318.5 L463.5,318.5 L464.0,318.5 L464.5,318.5 L465.0,318.5 L465.5,318.5 L466.0,318.5 L466.5,318.4 L467.0,318.4 L467.5,318.2 L468.0,318.0 L468.5,317.7 L469.0,317.1 L469.5,316.1 L470.0,314.4 L470.2,313.7 L470.5,313.4 L470.8,313.7 L471.0,314.6 L471.5,316.2 L472.0,317.1 L472.5,317.6 L473.0,317.8 L473.5,318.1 L474.0,318.3 L474.5,318.4 L475.0,318.3 L475.5,318.1 L476.0,317.9 L476.5,317.8 L477.0,317.8 L477.5,318.0 L478.0,318.1 L478.5,318.3 L479.0,318.6 L479.5,318.5 L480.0,318.6 L480.5,318.7 L481.0,318.6 L481.5,318.7 L482.0,318.6 L482.5,318.4 L483.0,318.3 L483.5,318.3 L484.0,318.3 L484.5,318.4 L485.0,318.4 L485.5,318.4 L486.0,318.2 L486.5,318.2 L487.0,318.1 L487.5,318.0 L488.0,317.9 L488.5,317.9 L489.0,317.9 L489.5,318.0 L490.0,318.2 L490.5,318.4 L491.0,318.5 L491.5,318.5 L492.0,318.5 L492.5,318.4 L493.0,318.2 L493.5,318.3 L494.0,318.3 L494.5,318.5 L495.0,318.7 L495.5,318.9 L496.0,319.0 L496.5,319.1 L497.0,319.3 L497.5,319.3 L498.0,319.2 L498.5,319.1 L499.0,318.8 L499.5,318.5 L500.0,318.4 L500.5,318.4 L501.0,318.6 L501.5,318.8 L502.0,319.0 L502.5,319.1 L503.0,319.0 L503.5,319.0 L504.0,318.7 L504.5,318.5 L505.0,318.3 L505.5,318.0 L506.0,318.0 L506.5,318.2 L507.0,318.4 L507.5,318.7 L508.0,318.8 L508.5,319.0 L509.0,319.2 L509.5,319.5 L510.0,319.6 L510.5,319.5 L511.0,319.3 L511.5,319.0 L512.0,318.8 L512.5,318.5 L513.0,318.2 L513.5,317.8 L514.0,317.2 L514.5,316.8 L514.8,316.8 L515.0,317.0 L515.2,317.4 L515.5,317.6 L516.0,318.0 L516.5,318.1 L517.0,318.0 L517.5,318.0 L518.0,318.0 L518.5,318.1 L519.0,318.3 L519.5,318.4 L520.0,318.5 L520.5,318.6 L521.0,318.8 L521.5,319.0 L522.0,319.2 L522.5,319.4 L523.0,319.3 L523.5,319.2 L524.0,319.2 L524.5,319.2 L525.0,319.3 L525.5,319.3 L526.0,319.2" stroke="#4f8cec"/>
<path d="M54.0,230.6 L54.5,230.6 L55.0,230.6 L55.5,230.7 L56.0,230.7 L56.5,230.6 L57.0,230.7 L57.5,230.7 L58.0,230.9 L58.5,231.1 L59.0,231.2 L59.5,231.2 L60.0,231.1 L60.5,231.0 L61.0,231.1 L61.5,231.1 L62.0,230.9 L62.5,230.7 L63.0,230.4 L63.5,230.4 L64.0,230.4 L64.5,230.6 L65.0,230.9 L65.5,230.8 L66.0,230.9 L66.5,230.8 L67.0,230.8 L67.5,230.9 L68.0,230.9 L68.5,230.7 L69.0,230.5 L69.5,230.3 L70.0,230.2 L70.5,230.4 L71.0,230.6 L71.5,230.8 L72.0,231.0 L72.5,230.9 L73.0,230.8 L73.5,230.6 L74.0,230.4 L74.5,230.2 L75.0,230.1 L75.5,230.2 L76.0,230.3 L76.5,230.5 L77.0,230.6 L77.5,230.5 L78.0,230.7 L78.5,230.7 L79.0,230.7 L79.5,230.7 L80.0,230.6 L80.5,230.5 L81.0,230.5 L81.5,230.4 L82.0,230.4 L82.5,230.3 L83.0,230.1 L83.5,229.8 L84.0,229.6 L84.5,229.5 L85.0,229.4 L85.5,229.4 L86.0,229.4 L86.5,229.3 L87.0,228.9 L87.5,228.2 L88.0,227.2 L88.5,225.6 L89.0,223.2 L89.5,217.8 L90.0,199.4 L90.2,186.5 L90.2,176.4 L90.4,167.9 L90.5,171.7 L90.7,185.9 L90.8,195.1 L91.0,209.6 L91.5,220.6 L92.0,224.5 L92.5,226.5 L93.0,227.6 L93.5,228.3 L94.0,228.8 L94.5,229.3 L95.0,229.5 L95.5,229.6 L96.0,229.8 L96.5,229.8 L97.0,230.1 L97.5,230.3 L98.0,230.3 L98.5,230.3 L99.0,230.2 L99.5,230.1 L100.0,230.2 L100.5,230.4 L101.0,230.6 L101.5,230.9 L102.0,231.2 L102.5,231.3 L103.0,231.5 L103.5,231.4 L104.0,231.1 L104.5,230.7 L105.0,230.5 L105.5,230.6 L106.0,230.6 L106.5,230.9 L107.0,231.0 L107.5,230.8 L108.0,230.8 L108.5,230.5 L109.0,230.5 L109.5,230.6 L110.0,230.6 L110.5,230.9 L111.0,231.1 L111.5,231.3 L112.0,231.4 L112.5,231.3 L113.0,231.0 L113.5,230.6 L114.0,230.1 L114.5,229.8 L115.0,229.7 L115.5,229.5 L116.0,229.7 L116.5,229.8 L117.0,230.1 L117.5,230.4 L118.0,230.4 L118.5,230.5 L119.0,230.5 L119.5,230.5 L120.0,230.4 L120.5,230.5 L121.0,230.5 L121.5,230.6 L122.0,230.8 L122.5,231.0 L123.0,231.0 L123.5,230.9 L124.0,230.6 L124.5,230.3 L125.0,230.1 L125.5,230.0 L126.0,230.0 L126.5,230.1 L127.0,230.2 L127.5,230.3 L128.0,230.5 L128.5,230.5 L129.0,230.6 L129.5,230.7 L130.0,230.6 L130.5,230.7 L131.0,230.8 L131.5,230.9 L132.0,231.0 L132.5,231.1 L133.0,231.1 L133.5,231.0 L134.0,231.1 L134.5,230.9 L135.0,230.9 L135.5,230.9 L136.0,231.0 L136.5,231.3 L137.0,231.5 L137.5,231.6 L138.0,231.5 L138.5,231.4 L139.0,231.3 L139.5,231.1 L140.0,231.1 L140.5,230.9 L141.0,230.7 L141.5,230.8 L142.0,230.7 L142.5,230.9 L143.0,231.1 L143.5,231.0 L144.0,230.9 L144.5,230.8 L145.0,230.5 L145.5,230.5 L146.0,230.7 L146.5,231.0 L147.0,231.3 L147.5,231.3 L148.0,231.0 L148.5,230.6 L149.0,230.2 L149.5,230.1 L150.0,230.1 L150.5,230.3 L151.0,230.3 L151.5,230.1 L152.0,229.7 L152.5,228.8 L153.0,226.7 L153.5,221.6 L153.7,219.7 L153.9,217.6 L154.0,218.1 L154.2,219.7 L154.5,224.1 L155.0,227.7 L155.5,229.1 L156.0,229.8 L156.5,230.3 L157.0,230.6 L157.5,230.7 L158.0,230.6 L158.5,230.5 L159.0,230.2 L159.5,230.0 L160.0,230.1 L160.5,230.1 L161.0,230.3 L161.5,230.4 L162.0,230.5 L162.5,230.6 L163.0,230.7 L163.5,230.7 L164.0,230.7 L164.5,230.7 L165.0,230.6 L165.5,230.5 L166.0,230.5 L166.5,230.5 L167.0,230.5 L167.5,230.6 L168.0,230.8 L168.5,230.9 L169.0,230.6 L169.5,230.0 L170.0,227.9 L170.4,223.1 L170.5,222.5 L170.7,221.0 L170.9,223.1 L171.0,223.7 L171.5,228.2 L172.0,229.7 L172.5,230.4 L173.0,230.8 L173.5,231.0 L174.0,231.0 L174.5,230.8 L175.0,230.6 L175.5,230.5 L176.0,230.4 L176.5,230.4 L177.0,230.5 L177.5,230.6 L178.0,230.6 L178.5,230.8 L179.0,230.9 L179.5,231.1 L180.0,231.2 L180.5,231.3 L181.0,231.2 L181.5,230.9 L182.0,230.6 L182.5,230.4 L183.0,230.6 L183.5,231.0 L184.0,231.4 L184.5,231.6 L185.0,231.5 L185.5,231.2 L186.0,230.9 L186.5,230.6 L187.0,230.7 L187.5,230.9 L188.0,231.2 L188.5,231.5 L189.0,231.6 L189.5,231.4 L190.0,231.1 L190.5,230.9 L191.0,231.0 L191.5,231.3 L192.0,231.5 L192.5,231.6 L193.0,231.5 L193.5,231.3 L194.0,231.0 L194.5,230.4 L194.8,230.1 L195.0,229.8 L195.2,229.9 L195.5,230.2 L196.0,230.5 L196.5,230.7 L197.0,230.6 L197.5,230.5 L198.0,230.4 L198.5,230.1 L199.0,230.0 L199.5,229.9 L200.0,229.6 L200.5,229.3 L201.0,228.5 L201.5,227.0 L202.0,224.6 L202.3,222.7 L202.5,222.3 L202.6,222.0 L202.8,222.4 L203.0,223.1 L203.5,226.0 L204.0,228.1 L204.5,229.3 L205.0,230.0 L205.5,230.4 L206.0,230.5 L206.5,230.4 L207.0,230.4 L207.5,230.3 L208.0,230.6 L208.5,231.0 L209.0,231.1 L209.5,231.1 L210.0,231.1 L210.5,231.1 L211.0,231.3 L211.5,231.5 L212.0,231.7 L212.5,231.8 L213.0,231.6 L213.5,231.5 L214.0,231.3 L214.5,231.2 L215.0,231.2 L215.5,231.2 L216.0,231.4 L216.5,231.6 L217.0,231.6 L217.5,231.6 L218.0,231.5 L218.5,231.3 L219.0,231.1 L219.5,231.0 L220.0,230.9 L220.5,231.0 L221.0,231.0 L221.5,231.0 L222.0,231.0 L222.5,230.8 L223.0,230.7 L223.5,230.7 L224.0,230.6 L224.5,230.8 L225.0,230.7 L225.5,230.3 L225.8,230.1 L226.0,229.8 L226.2,229.7 L226.5,229.9 L227.0,230.1 L227.5,230.3 L228.0,230.4 L228.5,230.2 L229.0,230.0 L229.5,228.9 L230.0,226.6 L230.3,224.0 L230.5,223.3 L230.6,223.3 L230.8,224.4 L231.0,225.5 L231.5,228.5 L232.0,229.8 L232.5,230.2 L233.0,230.2 L233.5,229.8 L233.8,229.5 L234.0,229.3 L234.2,229.5 L234.5,229.8 L235.0,230.3 L235.5,230.3 L236.0,230.3 L236.5,230.2 L237.0,230.2 L237.5,230.4 L238.0,230.5 L238.5,230.8 L239.0,231.1 L239.5,231.4 L240.0,231.6 L240.5,231.6 L241.0,231.4 L241.5,231.0 L242.0,230.2 L242.5,228.6 L242.8,227.3 L243.0,226.6 L243.2,227.3 L243.5,228.5 L244.0,229.9 L244.5,230.1 L245.0,230.0 L245.5,229.3 L246.0,227.6 L246.2,226.2 L246.5,225.1 L246.8,225.6 L247.0,226.6 L247.5,227.6 L248.0,227.4 L248.5,225.3 L249.0,218.9 L249.2,213.9 L249.5,211.0 L249.8,214.0 L250.0,219.4 L250.5,226.0 L251.0,228.6 L251.5,229.8 L252.0,230.4 L252.5,230.6 L253.0,230.8 L253.5,231.1 L254.0,231.4 L254.5,231.6 L255.0,231.9 L255.5,231.9 L256.0,231.8 L256.5,231.7 L257.0,231.4 L257.5,231.1 L258.0,230.9 L258.5,230.7 L259.0,230.8 L259.5,231.1 L260.0,231.4 L260.5,231.6 L261.0,231.8 L261.5,231.9 L262.0,232.1 L262.5,232.1 L263.0,232.2 L263.5,231.9 L264.0,231.5 L264.5,231.3 L265.0,231.1 L265.5,231.2 L266.0,231.1 L266.5,230.9 L267.0,230.6 L267.5,230.3 L268.0,230.2 L268.5,230.4 L269.0,230.6 L269.5,231.0 L270.0,231.3 L270.5,231.5 L271.0,231.6 L271.5,231.7 L272.0,231.6 L272.5,231.5 L273.0,231.4 L273.5,231.4 L274.0,231.5 L274.5,231.4 L275.0,231.4 L275.5,231.2 L276.0,231.2 L276.5,231.3 L277.0,231.2 L277.5,231.1 L278.0,230.7 L278.5,229.7 L278.9,228.9 L279.0,228.6 L279.1,228.5 L279.4,228.8 L279.5,229.2 L280.0,230.3 L280.5,230.8 L281.0,231.0 L281.5,231.1 L282.0,230.9 L282.5,231.1 L283.0,231.2 L283.5,231.5 L284.0,231.6 L284.5,231.5 L285.0,231.4 L285.5,231.2 L286.0,231.2 L286.5,231.4 L287.0,231.6 L287.5,231.5 L288.0,231.4 L288.5,231.1 L289.0,230.6 L289.5,230.2 L290.0,229.5 L290.2,229.3 L290.5,229.4 L290.8,229.4 L291.0,229.6 L291.5,230.1 L292.0,230.4 L292.5,230.7 L293.0,230.9 L293.5,230.7 L294.0,230.2 L294.5,229.3 L294.8,228.8 L295.0,228.8 L295.2,229.0 L295.5,229.3 L296.0,229.8 L296.5,229.7 L297.0,229.2 L297.5,228.5 L297.6,228.4 L297.8,228.3 L298.0,228.4 L298.1,228.4 L298.5,229.3 L299.0,230.1 L299.5,230.6 L300.0,230.9 L300.5,231.0 L301.0,231.1 L301.5,231.3 L302.0,231.4 L302.5,231.3 L303.0,231.1 L303.5,230.7 L304.0,230.0 L304.4,229.6 L304.5,229.5 L304.6,229.6 L304.9,229.8 L305.0,230.0 L305.5,230.7 L306.0,230.9 L306.5,231.1 L307.0,231.2 L307.5,231.3 L308.0,231.3 L308.5,231.4 L309.0,231.3 L309.5,231.3 L310.0,231.4 L310.5,231.4 L311.0,231.3 L311.5,231.3 L312.0,231.3 L312.5,231.3 L313.0,231.4 L313.5,231.4 L314.0,231.5 L314.5,231.4 L315.0,231.4 L315.5,231.5 L316.0,231.6 L316.5,231.6 L317.0,231.6 L317.5,231.6 L318.0,231.8 L318.5,231.8 L319.0,231.8 L319.5,231.7 L320.0,231.5 L320.5,231.4 L321.0,231.1 L321.5,230.9 L322.0,230.7 L322.5,230.8 L323.0,231.0 L323.5,231.2 L324.0,231.4 L324.5,231.4 L325.0,231.3 L325.5,231.2 L326.0,231.0 L326.5,230.6 L327.0,230.0 L327.5,229.1 L327.8,228.7 L328.0,228.6 L328.2,228.8 L328.5,229.2 L329.0,230.1 L329.5,230.8 L330.0,231.2 L330.5,231.3 L331.0,231.3 L331.5,231.1 L332.0,231.0 L332.5,231.1 L333.0,231.3 L333.5,231.2 L334.0,231.2 L334.5,231.1 L335.0,231.0 L335.5,231.1 L336.0,231.1 L336.5,231.2 L337.0,231.3 L337.5,231.4 L338.0,231.5 L338.5,231.6 L339.0,231.6 L339.5,231.6 L340.0,231.5 L340.5,231.3 L341.0,231.3 L341.5,231.2 L342.0,231.1 L342.5,231.1 L343.0,231.1 L343.5,231.2 L344.0,231.3 L344.5,231.5 L345.0,231.7 L345.5,231.9 L346.0,231.9 L346.5,231.9 L347.0,231.8 L347.5,231.6 L348.0,231.6 L348.5,231.7 L349.0,231.8 L349.5,231.9 L350.0,232.0 L350.5,231.9 L351.0,231.8 L351.5,231.7 L352.0,231.7 L352.5,231.8 L353.0,232.0 L353.5,232.1 L354.0,232.2 L354.5,232.2 L355.0,232.2 L355.5,232.2 L356.0,232.1 L356.5,231.9 L357.0,231.9 L357.5,231.6 L358.0,231.5 L358.5,231.4 L359.0,231.2 L359.5,231.1 L360.0,231.1 L360.5,231.1 L361.0,231.3 L361.5,231.5 L362.0,231.7 L362.5,231.9 L363.0,231.9 L363.5,231.9 L364.0,231.9 L364.5,231.7 L365.0,231.4 L365.5,231.0 L366.0,230.9 L366.5,231.1 L367.0,231.3 L367.5,231.6 L368.0,231.7 L368.5,231.9 L369.0,231.8 L369.5,232.0 L370.0,232.1 L370.5,232.1 L371.0,232.2 L371.5,232.2 L372.0,232.1 L372.5,232.1 L373.0,232.0 L373.5,232.0 L374.0,232.0 L374.5,231.9 L375.0,231.7 L375.5,231.7 L376.0,231.7 L376.5,231.7 L377.0,231.8 L377.5,231.8 L378.0,231.8 L378.5,231.8 L379.0,231.7 L379.5,231.8 L380.0,231.9 L380.5,232.0 L381.0,232.2 L381.5,232.0 L382.0,232.0 L382.5,231.9 L383.0,231.9 L383.5,232.1 L384.0,231.9 L384.5,231.7 L385.0,231.3 L385.5,230.8 L385.8,230.7 L386.0,230.8 L386.2,230.9 L386.5,231.3 L387.0,231.6 L387.5,231.8 L388.0,232.1 L388.5,232.2 L389.0,232.3 L389.5,232.3 L390.0,232.0 L390.5,231.9 L391.0,231.7 L391.5,231.7 L392.0,231.9 L392.5,232.0 L393.0,232.3 L393.5,232.2 L394.0,232.1 L394.5,231.9 L395.0,231.7 L395.5,231.8 L396.0,232.0 L396.5,232.2 L397.0,232.4 L397.5,232.4 L398.0,232.4 L398.5,232.2 L399.0,232.2 L399.5,232.1 L400.0,232.0 L400.5,232.0 L401.0,232.0 L401.5,231.9 L402.0,231.9 L402.5,231.6 L403.0,231.4 L403.5,231.2 L404.0,231.2 L404.5,231.2 L405.0,231.5 L405.5,231.5 L406.0,231.5 L406.5,231.5 L407.0,231.4 L407.5,231.5 L408.0,231.6 L408.5,231.9 L409.0,232.3 L409.5,232.4 L410.0,232.4 L410.5,232.3 L411.0,232.1 L411.5,232.1 L412.0,232.2 L412.5,232.0 L413.0,232.0 L413.5,231.8 L414.0,231.7 L414.5,232.0 L415.0,232.3 L415.5,232.4 L416.0,232.2 L416.5,231.8 L417.0,231.3 L417.5,231.0 L418.0,231.0 L418.5,231.1 L419.0,231.5 L419.5,231.7 L420.0,231.8 L420.5,231.8 L421.0,231.7 L421.5,231.5 L422.0,231.5 L422.5,231.7 L423.0,231.9 L423.5,232.2 L424.0,232.2 L424.5,232.0 L425.0,231.8 L425.5,231.6 L426.0,231.7 L426.5,231.8 L427.0,232.0 L427.5,232.0 L428.0,231.8 L428.5,231.6 L429.0,231.4 L429.5,231.2 L430.0,231.1 L430.2,231.0 L430.5,231.1 L430.8,231.1 L431.0,231.0 L431.5,231.4 L432.0,231.4 L432.5,231.7 L433.0,232.1 L433.5,232.3 L434.0,232.5 L434.5,232.3 L435.0,232.2 L435.5,231.9 L436.0,231.8 L436.5,231.8 L437.0,231.8 L437.5,231.8 L438.0,231.9 L438.5,231.9 L439.0,232.1 L439.5,232.2 L440.0,232.2 L440.5,232.1 L441.0,232.0 L441.5,231.8 L442.0,231.6 L442.5,231.6 L443.0,231.5 L443.5,231.4 L444.0,231.4 L444.5,231.3 L445.0,231.4 L445.5,231.5 L446.0,231.7 L446.5,231.9 L447.0,232.0 L447.5,232.0 L448.0,231.9 L448.5,231.9 L449.0,231.9 L449.5,232.0 L450.0,232.1 L450.5,232.0 L451.0,232.0 L451.5,231.9 L452.0,231.9 L452.5,232.0 L453.0,232.2 L453.5,232.4 L454.0,232.6 L454.5,232.6 L455.0,232.5 L455.5,232.3 L456.0,232.2 L456.5,232.1 L457.0,232.0 L457.5,231.9 L458.0,231.8 L458.5,231.6 L459.0,231.6 L459.5,231.5 L460.0,231.6 L460.5,231.9 L461.0,232.2 L461.5,232.4 L462.0,232.6 L462.5,232.5 L463.0,232.2 L463.5,231.8 L464.0,231.5 L464.5,231.3 L465.0,231.4 L465.5,231.7 L466.0,231.9 L466.5,232.1 L467.0,232.1 L467.5,232.1 L468.0,231.9 L468.5,231.8 L469.0,231.6 L469.5,231.5 L470.0,231.6 L470.5,231.7 L471.0,231.6 L471.1,231.6 L471.4,231.4 L471.5,231.3 L471.6,231.2 L472.0,231.4 L472.5,231.8 L473.0,232.1 L473.5,232.1 L474.0,232.3 L474.5,232.2 L475.0,232.2 L475.5,232.3 L476.0,232.1 L476.5,232.0 L477.0,231.9 L477.5,231.7 L478.0,231.6 L478.5,231.9 L479.0,232.1 L479.5,232.5 L480.0,232.8 L480.5,232.8 L481.0,232.8 L481.5,232.8 L482.0,232.8 L482.5,232.7 L483.0,232.5 L483.5,232.3 L484.0,232.0 L484.5,232.1 L485.0,232.2 L485.5,232.2 L486.0,232.2 L486.5,232.0 L487.0,231.8 L487.5,231.8 L488.0,232.0 L488.5,232.2 L489.0,232.3 L489.5,232.3 L490.0,232.2 L490.5,232.2 L491.0,232.2 L491.5,232.2 L492.0,232.2 L492.5,232.2 L493.0,232.4 L493.5,232.6 L494.0,232.8 L494.5,232.9 L495.0,232.8 L495.5,232.6 L496.0,232.6 L496.5,232.6 L497.0,232.5 L497.5,232.4 L498.0,232.1 L498.5,231.9 L499.0,231.8 L499.5,231.9 L500.0,232.0 L500.5,231.9 L501.0,231.9 L501.5,231.6 L502.0,231.6 L502.5,231.8 L503.0,231.9 L503.5,232.2 L504.0,232.4 L504.5,232.2 L505.0,232.2 L505.5,232.3 L506.0,232.2 L506.5,232.4 L507.0,232.4 L507.5,232.3 L508.0,232.2 L508.5,231.9 L509.0,231.8 L509.5,231.7 L510.0,231.8 L510.5,231.9 L511.0,232.0 L511.5,232.2 L512.0,232.3 L512.5,232.4 L513.0,232.4 L513.5,232.3 L514.0,232.1 L514.5,231.8 L515.0,231.7 L515.5,231.8 L516.0,231.8 L516.5,232.0 L517.0,232.2 L517.5,232.2 L518.0,232.3 L518.5,232.3 L519.0,232.4 L519.5,232.6 L520.0,232.7 L520.5,232.7 L521.0,232.8 L521.5,232.7 L522.0,232.7 L522.5,232.9 L523.0,232.8 L523.5,232.7 L524.0,232.6 L524.5,232.3 L525.0,232.3 L525.5,232.3 L526.0,232.3" stroke="#c49af0"/>
<line x1="91.9" y1="24.0" x2="91.9" y2="232.6" stroke="#a8e0c7" stroke-width="2.4"/>
<line x1="91.8" y1="232.6" x2="91.8" y2="259" stroke="#8fd6b4" stroke-width="2.5" opacity="0.4"/>
</g>
<rect x="53.7" y="24.0" width="472.8" height="376.9" fill="none" stroke="#000" stroke-width="1.6"/>
<g stroke="#000" stroke-width="1.6">
<line x1="53.5" y1="400.9" x2="53.5" y2="405.4"/>
<line x1="89.9" y1="400.9" x2="89.9" y2="408.5"/>
<line x1="126.3" y1="400.9" x2="126.3" y2="405.4"/>
<line x1="162.7" y1="400.9" x2="162.7" y2="408.5"/>
<line x1="199.1" y1="400.9" x2="199.1" y2="405.4"/>
<line x1="235.4" y1="400.9" x2="235.4" y2="408.5"/>
<line x1="271.8" y1="400.9" x2="271.8" y2="405.4"/>
<line x1="308.2" y1="400.9" x2="308.2" y2="408.5"/>
<line x1="344.6" y1="400.9" x2="344.6" y2="405.4"/>
<line x1="381.0" y1="400.9" x2="381.0" y2="408.5"/>
<line x1="417.4" y1="400.9" x2="417.4" y2="405.4"/>
<line x1="453.8" y1="400.9" x2="453.8" y2="408.5"/>
<line x1="490.2" y1="400.9" x2="490.2" y2="405.4"/>
<line x1="526.6" y1="400.9" x2="526.6" y2="408.5"/>
</g>
<g font-size="16.4" text-anchor="middle" letter-spacing="-0.3">
<text x="90.4" y="426.1">10</text>
<text x="163.2" y="426.1">20</text>
<text x="235.9" y="426.1">30</text>
<text x="308.7" y="426.1">40</text>
<text x="381.5" y="426.1">50</text>
<text x="454.3" y="426.1">60</text>
<text x="527.1" y="426.1">70</text>
</g>
<text x="224" y="464.2" font-size="31.4">2<tspan dx="1">θ</tspan> <tspan dx="4.0">/</tspan> <tspan dx="0.6">degrees</tspan></text>
<text transform="translate(37.8,267.8) rotate(-90)" font-size="31.7">Intensity</text>
<text x="477.6" y="223.0" font-size="23.5">(e)</text>
<text x="477.6" y="268.5" font-size="23.5">(d)</text>
<text x="479.0" y="304.9" font-size="23.5">(c)</text>
<text x="480.0" y="343.2" font-size="23.5">(b)</text>
<text x="481.0" y="379.5" font-size="23.5">(a)</text>
<g fill="none" stroke="#1a1a1a" stroke-width="1.05" stroke-linejoin="miter">
<polygon points="89.4,48.8 83.1,59.8 95.7,59.8"/>
<polygon points="154.6,315.8 148.4,325.6 160.8,325.6"/>
<polygon points="239.6,327.8 233.4,337.6 245.8,337.6"/>
<polygon points="249.1,324.4 243.1,334.2 255.1,334.2"/>
<polygon points="281.4,334.0 275.1,344.0 287.7,344.0"/>
<circle cx="154.6" cy="333.7" r="5.4"/>
<circle cx="296.7" cy="325.3" r="5.4"/>
<circle cx="386.5" cy="325.4" r="5.4"/>
<circle cx="443.3" cy="330.9" r="5.4"/>
<circle cx="470.8" cy="330.4" r="5.4"/>
<circle cx="513.6" cy="333.6" r="5.4"/>
<rect x="327.4" y="325.6" width="10.4" height="10.4"/>
<circle cx="368" cy="63.9" r="4.8"/>
<rect x="363.4" y="86.5" width="10.0" height="10.3"/>
<polygon points="368.0,113.8 361.7,124.8 374.3,124.8"/>
</g>
<text x="202.5" y="221.3" font-size="19.5" font-weight="bold" text-anchor="middle">*</text>
<text x="230" y="220.5" font-size="19.5" font-weight="bold" text-anchor="middle">*</text>
<text x="368.7" y="153.2" font-size="16.5" font-weight="bold" text-anchor="middle">*</text>
<g transform="translate(382.6,68.7) scale(1.05,1)"><text x="0" y="0" font-size="17">Mg(OH)<tspan font-size="11.8">2</tspan></text></g>
<g transform="translate(382.6,96.6) scale(1.05,1)"><text x="0" y="0" font-size="17">MgO</text></g>
<g transform="translate(384.5,125.4) scale(1.05,1)"><text x="0" y="0" font-size="17">MgNH<tspan font-size="11.8">4</tspan>PO<tspan font-size="11.8">4</tspan><tspan dx="0.6">·</tspan><tspan dx="1.0">H</tspan><tspan font-size="11.8">2</tspan>O</text></g>
<g transform="translate(383.6,150.2) scale(1.05,1)"><text x="0" y="0" font-size="17">α-SrHPO<tspan font-size="11.8">4</tspan></text></g>
</svg></body></html>
